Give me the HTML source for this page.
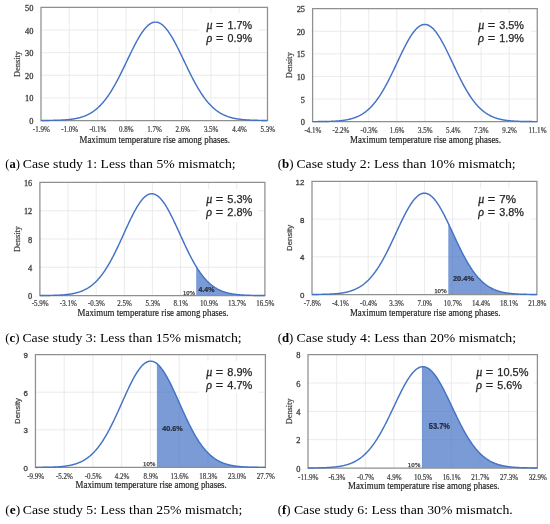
<!DOCTYPE html>
<html><head><meta charset="utf-8"><style>
html,body{margin:0;padding:0;background:#fff;}
svg{display:block;will-change:transform;filter:blur(0.3px);}
</style></head><body>
<svg width="550" height="524" viewBox="0 0 550 524">
<rect width="550" height="524" fill="#fff"/>
<g id="pa"><line x1="41.00" y1="97.89" x2="267.50" y2="97.89" stroke="#e6e6e6" stroke-width="0.8"/>
<line x1="41.00" y1="75.28" x2="267.50" y2="75.28" stroke="#e6e6e6" stroke-width="0.8"/>
<line x1="41.00" y1="52.66" x2="267.50" y2="52.66" stroke="#e6e6e6" stroke-width="0.8"/>
<line x1="41.00" y1="30.05" x2="267.50" y2="30.05" stroke="#e6e6e6" stroke-width="0.8"/>
<line x1="69.31" y1="7.44" x2="69.31" y2="120.50" stroke="#e6e6e6" stroke-width="0.8"/>
<line x1="97.62" y1="7.44" x2="97.62" y2="120.50" stroke="#e6e6e6" stroke-width="0.8"/>
<line x1="125.94" y1="7.44" x2="125.94" y2="120.50" stroke="#e6e6e6" stroke-width="0.8"/>
<line x1="154.25" y1="7.44" x2="154.25" y2="120.50" stroke="#e6e6e6" stroke-width="0.8"/>
<line x1="182.56" y1="7.44" x2="182.56" y2="120.50" stroke="#e6e6e6" stroke-width="0.8"/>
<line x1="210.88" y1="7.44" x2="210.88" y2="120.50" stroke="#e6e6e6" stroke-width="0.8"/>
<line x1="239.19" y1="7.44" x2="239.19" y2="120.50" stroke="#e6e6e6" stroke-width="0.8"/>
<rect x="199" y="13" width="60.00" height="34.00" fill="#fff"/>
<path d="M41.0,120.5 L41.0,7.44 L267.5,7.44 L267.5,120.5 Z" fill="none" stroke="#8f8f8f" stroke-width="1.25"/>
<path d="M41.00,120.47 L41.49,120.47 L41.98,120.46 L42.48,120.46 L42.97,120.46 L43.46,120.46 L43.95,120.45 L44.45,120.45 L44.94,120.45 L45.43,120.44 L45.92,120.44 L46.42,120.44 L46.91,120.43 L47.40,120.43 L47.89,120.42 L48.39,120.42 L48.88,120.41 L49.37,120.40 L49.86,120.40 L50.36,120.39 L50.85,120.38 L51.34,120.38 L51.83,120.37 L52.33,120.36 L52.82,120.35 L53.31,120.34 L53.80,120.33 L54.29,120.32 L54.79,120.31 L55.28,120.30 L55.77,120.28 L56.26,120.27 L56.76,120.26 L57.25,120.24 L57.74,120.23 L58.23,120.21 L58.73,120.19 L59.22,120.17 L59.71,120.15 L60.20,120.13 L60.70,120.11 L61.19,120.09 L61.68,120.06 L62.17,120.04 L62.67,120.01 L63.16,119.98 L63.65,119.95 L64.14,119.92 L64.63,119.89 L65.13,119.85 L65.62,119.82 L66.11,119.78 L66.60,119.74 L67.10,119.70 L67.59,119.65 L68.08,119.61 L68.57,119.56 L69.07,119.51 L69.56,119.46 L70.05,119.40 L70.54,119.34 L71.04,119.28 L71.53,119.22 L72.02,119.15 L72.51,119.08 L73.01,119.01 L73.50,118.93 L73.99,118.85 L74.48,118.77 L74.97,118.68 L75.47,118.59 L75.96,118.50 L76.45,118.40 L76.94,118.30 L77.44,118.19 L77.93,118.08 L78.42,117.96 L78.91,117.84 L79.41,117.71 L79.90,117.58 L80.39,117.45 L80.88,117.30 L81.38,117.16 L81.87,117.00 L82.36,116.84 L82.85,116.68 L83.35,116.51 L83.84,116.33 L84.33,116.15 L84.82,115.95 L85.32,115.76 L85.81,115.55 L86.30,115.34 L86.79,115.12 L87.28,114.89 L87.78,114.65 L88.27,114.41 L88.76,114.16 L89.25,113.90 L89.75,113.63 L90.24,113.35 L90.73,113.06 L91.22,112.76 L91.72,112.46 L92.21,112.14 L92.70,111.82 L93.19,111.48 L93.69,111.14 L94.18,110.78 L94.67,110.41 L95.16,110.04 L95.66,109.65 L96.15,109.25 L96.64,108.84 L97.13,108.42 L97.62,107.98 L98.12,107.54 L98.61,107.08 L99.10,106.61 L99.59,106.13 L100.09,105.64 L100.58,105.13 L101.07,104.61 L101.56,104.08 L102.06,103.54 L102.55,102.98 L103.04,102.42 L103.53,101.83 L104.03,101.24 L104.52,100.63 L105.01,100.01 L105.50,99.38 L106.00,98.73 L106.49,98.07 L106.98,97.40 L107.47,96.71 L107.97,96.01 L108.46,95.30 L108.95,94.58 L109.44,93.84 L109.93,93.09 L110.43,92.32 L110.92,91.55 L111.41,90.76 L111.90,89.96 L112.40,89.15 L112.89,88.32 L113.38,87.48 L113.87,86.63 L114.37,85.77 L114.86,84.90 L115.35,84.02 L115.84,83.13 L116.34,82.22 L116.83,81.31 L117.32,80.39 L117.81,79.45 L118.31,78.51 L118.80,77.56 L119.29,76.60 L119.78,75.63 L120.28,74.66 L120.77,73.67 L121.26,72.68 L121.75,71.69 L122.24,70.69 L122.74,69.68 L123.23,68.67 L123.72,67.65 L124.21,66.63 L124.71,65.61 L125.20,64.58 L125.69,63.56 L126.18,62.53 L126.68,61.50 L127.17,60.46 L127.66,59.43 L128.15,58.40 L128.65,57.38 L129.14,56.35 L129.63,55.32 L130.12,54.30 L130.62,53.29 L131.11,52.28 L131.60,51.27 L132.09,50.27 L132.58,49.28 L133.08,48.29 L133.57,47.32 L134.06,46.35 L134.55,45.39 L135.05,44.44 L135.54,43.50 L136.03,42.58 L136.52,41.66 L137.02,40.76 L137.51,39.88 L138.00,39.00 L138.49,38.15 L138.99,37.31 L139.48,36.48 L139.97,35.68 L140.46,34.89 L140.96,34.11 L141.45,33.36 L141.94,32.63 L142.43,31.92 L142.93,31.23 L143.42,30.56 L143.91,29.91 L144.40,29.28 L144.89,28.68 L145.39,28.10 L145.88,27.55 L146.37,27.02 L146.86,26.52 L147.36,26.04 L147.85,25.58 L148.34,25.16 L148.83,24.76 L149.33,24.38 L149.82,24.04 L150.31,23.72 L150.80,23.43 L151.30,23.16 L151.79,22.93 L152.28,22.73 L152.77,22.55 L153.27,22.40 L153.76,22.28 L154.25,22.19 L154.74,22.13 L155.23,22.10 L155.73,22.10 L156.22,22.13 L156.71,22.19 L157.20,22.28 L157.70,22.39 L158.19,22.54 L158.68,22.71 L159.17,22.91 L159.67,23.15 L160.16,23.41 L160.65,23.69 L161.14,24.01 L161.64,24.35 L162.13,24.73 L162.62,25.12 L163.11,25.55 L163.61,26.00 L164.10,26.48 L164.59,26.98 L165.08,27.51 L165.57,28.06 L166.07,28.64 L166.56,29.24 L167.05,29.86 L167.54,30.51 L168.04,31.17 L168.53,31.86 L169.02,32.57 L169.51,33.31 L170.01,34.06 L170.50,34.83 L170.99,35.61 L171.48,36.42 L171.98,37.24 L172.47,38.08 L172.96,38.94 L173.45,39.81 L173.95,40.69 L174.44,41.59 L174.93,42.51 L175.42,43.43 L175.92,44.37 L176.41,45.31 L176.90,46.27 L177.39,47.24 L177.88,48.22 L178.38,49.20 L178.87,50.19 L179.36,51.19 L179.85,52.20 L180.35,53.21 L180.84,54.23 L181.33,55.25 L181.82,56.27 L182.32,57.30 L182.81,58.32 L183.30,59.35 L183.79,60.38 L184.29,61.42 L184.78,62.45 L185.27,63.48 L185.76,64.50 L186.26,65.53 L186.75,66.55 L187.24,67.57 L187.73,68.59 L188.22,69.60 L188.72,70.61 L189.21,71.61 L189.70,72.61 L190.19,73.60 L190.69,74.58 L191.18,75.56 L191.67,76.52 L192.16,77.48 L192.66,78.44 L193.15,79.38 L193.64,80.31 L194.13,81.24 L194.63,82.15 L195.12,83.06 L195.61,83.95 L196.10,84.83 L196.60,85.71 L197.09,86.57 L197.58,87.42 L198.07,88.26 L198.57,89.08 L199.06,89.90 L199.55,90.70 L200.04,91.49 L200.53,92.26 L201.03,93.03 L201.52,93.78 L202.01,94.52 L202.50,95.25 L203.00,95.96 L203.49,96.66 L203.98,97.35 L204.47,98.02 L204.97,98.68 L205.46,99.33 L205.95,99.96 L206.44,100.58 L206.94,101.19 L207.43,101.79 L207.92,102.37 L208.41,102.94 L208.91,103.50 L209.40,104.04 L209.89,104.57 L210.38,105.09 L210.88,105.60 L211.37,106.09 L211.86,106.57 L212.35,107.04 L212.84,107.50 L213.34,107.95 L213.83,108.38 L214.32,108.81 L214.81,109.22 L215.31,109.62 L215.80,110.01 L216.29,110.38 L216.78,110.75 L217.28,111.11 L217.77,111.45 L218.26,111.79 L218.75,112.12 L219.25,112.43 L219.74,112.74 L220.23,113.04 L220.72,113.33 L221.22,113.61 L221.71,113.88 L222.20,114.14 L222.69,114.39 L223.18,114.64 L223.68,114.87 L224.17,115.10 L224.66,115.32 L225.15,115.53 L225.65,115.74 L226.14,115.94 L226.63,116.13 L227.12,116.32 L227.62,116.49 L228.11,116.67 L228.60,116.83 L229.09,116.99 L229.59,117.15 L230.08,117.29 L230.57,117.44 L231.06,117.57 L231.56,117.70 L232.05,117.83 L232.54,117.95 L233.03,118.07 L233.53,118.18 L234.02,118.29 L234.51,118.39 L235.00,118.49 L235.49,118.58 L235.99,118.68 L236.48,118.76 L236.97,118.85 L237.46,118.93 L237.96,119.00 L238.45,119.08 L238.94,119.15 L239.43,119.21 L239.93,119.28 L240.42,119.34 L240.91,119.40 L241.40,119.45 L241.90,119.51 L242.39,119.56 L242.88,119.61 L243.37,119.65 L243.87,119.70 L244.36,119.74 L244.85,119.78 L245.34,119.82 L245.83,119.85 L246.33,119.89 L246.82,119.92 L247.31,119.95 L247.80,119.98 L248.30,120.01 L248.79,120.04 L249.28,120.06 L249.77,120.09 L250.27,120.11 L250.76,120.13 L251.25,120.15 L251.74,120.17 L252.24,120.19 L252.73,120.21 L253.22,120.22 L253.71,120.24 L254.21,120.26 L254.70,120.27 L255.19,120.28 L255.68,120.30 L256.18,120.31 L256.67,120.32 L257.16,120.33 L257.65,120.34 L258.14,120.35 L258.64,120.36 L259.13,120.37 L259.62,120.38 L260.11,120.38 L260.61,120.39 L261.10,120.40 L261.59,120.40 L262.08,120.41 L262.58,120.42 L263.07,120.42 L263.56,120.43 L264.05,120.43 L264.55,120.43 L265.04,120.44 L265.53,120.44 L266.02,120.45 L266.52,120.45 L267.01,120.45 L267.50,120.46" fill="none" stroke="#4472c4" stroke-width="1.45" stroke-linejoin="round"/>
<text x="33.40" y="124.10" text-anchor="end" font-family='"Liberation Serif", serif' font-size="8.4" fill="#404040" stroke="#404040" stroke-width="0.3">0</text>
<text x="33.40" y="101.49" text-anchor="end" font-family='"Liberation Serif", serif' font-size="8.4" fill="#404040" stroke="#404040" stroke-width="0.3">10</text>
<text x="33.40" y="78.88" text-anchor="end" font-family='"Liberation Serif", serif' font-size="8.4" fill="#404040" stroke="#404040" stroke-width="0.3">20</text>
<text x="33.40" y="56.26" text-anchor="end" font-family='"Liberation Serif", serif' font-size="8.4" fill="#404040" stroke="#404040" stroke-width="0.3">30</text>
<text x="33.40" y="33.65" text-anchor="end" font-family='"Liberation Serif", serif' font-size="8.4" fill="#404040" stroke="#404040" stroke-width="0.3">40</text>
<text x="33.40" y="11.04" text-anchor="end" font-family='"Liberation Serif", serif' font-size="8.4" fill="#404040" stroke="#404040" stroke-width="0.3">50</text>
<text x="41.30" y="131.90" text-anchor="middle" font-family='"Liberation Serif", serif' font-size="7.4" textLength="16.91" lengthAdjust="spacingAndGlyphs" fill="#404040" stroke="#404040" stroke-width="0.2">-1.9%</text>
<text x="69.61" y="131.90" text-anchor="middle" font-family='"Liberation Serif", serif' font-size="7.4" textLength="16.91" lengthAdjust="spacingAndGlyphs" fill="#404040" stroke="#404040" stroke-width="0.2">-1.0%</text>
<text x="97.92" y="131.90" text-anchor="middle" font-family='"Liberation Serif", serif' font-size="7.4" textLength="16.91" lengthAdjust="spacingAndGlyphs" fill="#404040" stroke="#404040" stroke-width="0.2">-0.1%</text>
<text x="126.24" y="131.90" text-anchor="middle" font-family='"Liberation Serif", serif' font-size="7.4" textLength="14.58" lengthAdjust="spacingAndGlyphs" fill="#404040" stroke="#404040" stroke-width="0.2">0.8%</text>
<text x="154.55" y="131.90" text-anchor="middle" font-family='"Liberation Serif", serif' font-size="7.4" textLength="14.58" lengthAdjust="spacingAndGlyphs" fill="#404040" stroke="#404040" stroke-width="0.2">1.7%</text>
<text x="182.86" y="131.90" text-anchor="middle" font-family='"Liberation Serif", serif' font-size="7.4" textLength="14.58" lengthAdjust="spacingAndGlyphs" fill="#404040" stroke="#404040" stroke-width="0.2">2.6%</text>
<text x="211.18" y="131.90" text-anchor="middle" font-family='"Liberation Serif", serif' font-size="7.4" textLength="14.58" lengthAdjust="spacingAndGlyphs" fill="#404040" stroke="#404040" stroke-width="0.2">3.5%</text>
<text x="239.49" y="131.90" text-anchor="middle" font-family='"Liberation Serif", serif' font-size="7.4" textLength="14.58" lengthAdjust="spacingAndGlyphs" fill="#404040" stroke="#404040" stroke-width="0.2">4.4%</text>
<text x="267.80" y="131.90" text-anchor="middle" font-family='"Liberation Serif", serif' font-size="7.4" textLength="14.58" lengthAdjust="spacingAndGlyphs" fill="#404040" stroke="#404040" stroke-width="0.2">5.3%</text>
<text transform="translate(20.40,63.97) rotate(-90)" text-anchor="middle" font-family='"Liberation Serif", serif' font-size="7.4" fill="#404040" stroke="#404040" stroke-width="0.2" textLength="26" lengthAdjust="spacingAndGlyphs">Density</text>
<text x="79.6" y="142.6" font-family='"Liberation Serif", serif' font-size="9.4" fill="#262626" stroke="#262626" stroke-width="0.18" textLength="150.4" lengthAdjust="spacingAndGlyphs">Maximum temperature rise among phases.</text>
<text x="206.50" y="28.90" font-family='"Liberation Serif", serif' font-style="italic" font-size="12" fill="#262626" stroke="#262626" stroke-width="0.3">μ</text>
<text x="215.90" y="28.90" font-family='"Liberation Sans", sans-serif' font-size="11" fill="#262626" stroke="#262626" stroke-width="0.3" textLength="7.4" lengthAdjust="spacingAndGlyphs">=</text>
<text x="227.50" y="28.90" font-family='"Liberation Sans", sans-serif' font-size="10.6" fill="#262626" stroke="#262626" stroke-width="0.25" textLength="24.50" lengthAdjust="spacingAndGlyphs">1.7%</text>
<text x="206.50" y="42.10" font-family='"Liberation Serif", serif' font-style="italic" font-size="12" fill="#262626" stroke="#262626" stroke-width="0.3">ρ</text>
<text x="215.90" y="42.10" font-family='"Liberation Sans", sans-serif' font-size="11" fill="#262626" stroke="#262626" stroke-width="0.3" textLength="7.4" lengthAdjust="spacingAndGlyphs">=</text>
<text x="227.50" y="42.10" font-family='"Liberation Sans", sans-serif' font-size="10.6" fill="#262626" stroke="#262626" stroke-width="0.25" textLength="24.50" lengthAdjust="spacingAndGlyphs">0.9%</text>
<text x="5.30" y="168" font-family='"Liberation Serif", serif' font-size="13.0" fill="#000" textLength="14.60" lengthAdjust="spacingAndGlyphs">(<tspan font-weight="bold">a</tspan>)</text>
<text x="22.80" y="168" font-family='"Liberation Serif", serif' font-size="13.0" fill="#000" textLength="212.90" lengthAdjust="spacingAndGlyphs">Case study 1: Less than 5% mismatch;</text></g>
<g id="pb"><line x1="312.60" y1="99.05" x2="537.25" y2="99.05" stroke="#e6e6e6" stroke-width="0.8"/>
<line x1="312.60" y1="76.45" x2="537.25" y2="76.45" stroke="#e6e6e6" stroke-width="0.8"/>
<line x1="312.60" y1="53.85" x2="537.25" y2="53.85" stroke="#e6e6e6" stroke-width="0.8"/>
<line x1="312.60" y1="31.25" x2="537.25" y2="31.25" stroke="#e6e6e6" stroke-width="0.8"/>
<line x1="340.68" y1="8.65" x2="340.68" y2="121.65" stroke="#e6e6e6" stroke-width="0.8"/>
<line x1="368.76" y1="8.65" x2="368.76" y2="121.65" stroke="#e6e6e6" stroke-width="0.8"/>
<line x1="396.84" y1="8.65" x2="396.84" y2="121.65" stroke="#e6e6e6" stroke-width="0.8"/>
<line x1="424.93" y1="8.65" x2="424.93" y2="121.65" stroke="#e6e6e6" stroke-width="0.8"/>
<line x1="453.01" y1="8.65" x2="453.01" y2="121.65" stroke="#e6e6e6" stroke-width="0.8"/>
<line x1="481.09" y1="8.65" x2="481.09" y2="121.65" stroke="#e6e6e6" stroke-width="0.8"/>
<line x1="509.17" y1="8.65" x2="509.17" y2="121.65" stroke="#e6e6e6" stroke-width="0.8"/>
<rect x="471.6" y="13" width="59.70" height="33.00" fill="#fff"/>
<path d="M312.6,121.65 L312.6,8.65 L537.25,8.65 L537.25,121.65 Z" fill="none" stroke="#8f8f8f" stroke-width="1.25"/>
<path d="M312.60,121.62 L313.09,121.62 L313.58,121.62 L314.07,121.62 L314.55,121.61 L315.04,121.61 L315.53,121.61 L316.02,121.61 L316.51,121.60 L317.00,121.60 L317.48,121.60 L317.97,121.59 L318.46,121.59 L318.95,121.58 L319.44,121.58 L319.93,121.58 L320.41,121.57 L320.90,121.56 L321.39,121.56 L321.88,121.55 L322.37,121.55 L322.86,121.54 L323.34,121.53 L323.83,121.52 L324.32,121.51 L324.81,121.51 L325.30,121.50 L325.79,121.49 L326.27,121.48 L326.76,121.46 L327.25,121.45 L327.74,121.44 L328.23,121.43 L328.72,121.41 L329.20,121.40 L329.69,121.38 L330.18,121.37 L330.67,121.35 L331.16,121.33 L331.65,121.31 L332.13,121.29 L332.62,121.27 L333.11,121.24 L333.60,121.22 L334.09,121.19 L334.58,121.17 L335.06,121.14 L335.55,121.11 L336.04,121.08 L336.53,121.04 L337.02,121.01 L337.51,120.97 L338.00,120.93 L338.48,120.89 L338.97,120.85 L339.46,120.81 L339.95,120.76 L340.44,120.71 L340.93,120.66 L341.41,120.60 L341.90,120.55 L342.39,120.49 L342.88,120.42 L343.37,120.36 L343.86,120.29 L344.34,120.22 L344.83,120.14 L345.32,120.07 L345.81,119.98 L346.30,119.90 L346.79,119.81 L347.27,119.71 L347.76,119.62 L348.25,119.52 L348.74,119.41 L349.23,119.30 L349.72,119.18 L350.20,119.06 L350.69,118.94 L351.18,118.81 L351.67,118.67 L352.16,118.53 L352.65,118.38 L353.13,118.23 L353.62,118.07 L354.11,117.90 L354.60,117.73 L355.09,117.55 L355.58,117.37 L356.06,117.18 L356.55,116.98 L357.04,116.77 L357.53,116.56 L358.02,116.33 L358.51,116.10 L359.00,115.87 L359.48,115.62 L359.97,115.37 L360.46,115.10 L360.95,114.83 L361.44,114.55 L361.93,114.26 L362.41,113.96 L362.90,113.64 L363.39,113.32 L363.88,112.99 L364.37,112.65 L364.86,112.30 L365.34,111.94 L365.83,111.57 L366.32,111.18 L366.81,110.79 L367.30,110.38 L367.79,109.96 L368.27,109.53 L368.76,109.09 L369.25,108.64 L369.74,108.17 L370.23,107.69 L370.72,107.20 L371.20,106.70 L371.69,106.18 L372.18,105.65 L372.67,105.11 L373.16,104.55 L373.65,103.98 L374.13,103.40 L374.62,102.81 L375.11,102.20 L375.60,101.58 L376.09,100.94 L376.58,100.29 L377.06,99.63 L377.55,98.96 L378.04,98.27 L378.53,97.56 L379.02,96.85 L379.51,96.12 L380.00,95.38 L380.48,94.62 L380.97,93.85 L381.46,93.07 L381.95,92.27 L382.44,91.47 L382.93,90.65 L383.41,89.81 L383.90,88.97 L384.39,88.11 L384.88,87.24 L385.37,86.36 L385.86,85.47 L386.34,84.57 L386.83,83.66 L387.32,82.73 L387.81,81.80 L388.30,80.86 L388.79,79.91 L389.27,78.94 L389.76,77.97 L390.25,77.00 L390.74,76.01 L391.23,75.02 L391.72,74.02 L392.20,73.01 L392.69,72.00 L393.18,70.98 L393.67,69.96 L394.16,68.93 L394.65,67.90 L395.13,66.87 L395.62,65.84 L396.11,64.80 L396.60,63.76 L397.09,62.72 L397.58,61.68 L398.06,60.64 L398.55,59.61 L399.04,58.57 L399.53,57.54 L400.02,56.51 L400.51,55.48 L400.99,54.46 L401.48,53.45 L401.97,52.44 L402.46,51.44 L402.95,50.44 L403.44,49.46 L403.93,48.48 L404.41,47.51 L404.90,46.55 L405.39,45.61 L405.88,44.68 L406.37,43.76 L406.86,42.85 L407.34,41.96 L407.83,41.08 L408.32,40.22 L408.81,39.37 L409.30,38.54 L409.79,37.73 L410.27,36.94 L410.76,36.16 L411.25,35.41 L411.74,34.68 L412.23,33.96 L412.72,33.27 L413.20,32.60 L413.69,31.96 L414.18,31.34 L414.67,30.74 L415.16,30.16 L415.65,29.62 L416.13,29.09 L416.62,28.59 L417.11,28.12 L417.60,27.68 L418.09,27.26 L418.58,26.87 L419.06,26.51 L419.55,26.18 L420.04,25.87 L420.53,25.60 L421.02,25.35 L421.51,25.13 L421.99,24.95 L422.48,24.79 L422.97,24.66 L423.46,24.56 L423.95,24.50 L424.44,24.46 L424.93,24.45 L425.41,24.47 L425.90,24.53 L426.39,24.61 L426.88,24.72 L427.37,24.87 L427.86,25.04 L428.34,25.24 L428.83,25.47 L429.32,25.74 L429.81,26.03 L430.30,26.35 L430.79,26.69 L431.27,27.07 L431.76,27.47 L432.25,27.90 L432.74,28.36 L433.23,28.85 L433.72,29.36 L434.20,29.89 L434.69,30.45 L435.18,31.04 L435.67,31.65 L436.16,32.29 L436.65,32.94 L437.13,33.62 L437.62,34.33 L438.11,35.05 L438.60,35.79 L439.09,36.56 L439.58,37.34 L440.06,38.14 L440.55,38.96 L441.04,39.80 L441.53,40.65 L442.02,41.53 L442.51,42.41 L442.99,43.31 L443.48,44.22 L443.97,45.15 L444.46,46.09 L444.95,47.04 L445.44,48.00 L445.92,48.98 L446.41,49.96 L446.90,50.95 L447.39,51.95 L447.88,52.95 L448.37,53.97 L448.86,54.98 L449.34,56.01 L449.83,57.03 L450.32,58.07 L450.81,59.10 L451.30,60.14 L451.79,61.17 L452.27,62.21 L452.76,63.25 L453.25,64.29 L453.74,65.33 L454.23,66.37 L454.72,67.40 L455.20,68.43 L455.69,69.46 L456.18,70.48 L456.67,71.50 L457.16,72.52 L457.65,73.53 L458.13,74.53 L458.62,75.53 L459.11,76.52 L459.60,77.50 L460.09,78.47 L460.58,79.44 L461.06,80.39 L461.55,81.34 L462.04,82.28 L462.53,83.21 L463.02,84.13 L463.51,85.03 L463.99,85.93 L464.48,86.82 L464.97,87.69 L465.46,88.55 L465.95,89.40 L466.44,90.24 L466.92,91.07 L467.41,91.88 L467.90,92.68 L468.39,93.47 L468.88,94.25 L469.37,95.01 L469.86,95.76 L470.34,96.49 L470.83,97.22 L471.32,97.92 L471.81,98.62 L472.30,99.30 L472.79,99.97 L473.27,100.63 L473.76,101.27 L474.25,101.90 L474.74,102.51 L475.23,103.11 L475.72,103.70 L476.20,104.28 L476.69,104.84 L477.18,105.39 L477.67,105.92 L478.16,106.45 L478.65,106.96 L479.13,107.45 L479.62,107.94 L480.11,108.41 L480.60,108.87 L481.09,109.32 L481.58,109.75 L482.06,110.18 L482.55,110.59 L483.04,110.99 L483.53,111.38 L484.02,111.76 L484.51,112.13 L484.99,112.48 L485.48,112.83 L485.97,113.16 L486.46,113.49 L486.95,113.80 L487.44,114.11 L487.92,114.41 L488.41,114.69 L488.90,114.97 L489.39,115.24 L489.88,115.50 L490.37,115.75 L490.85,115.99 L491.34,116.22 L491.83,116.45 L492.32,116.67 L492.81,116.88 L493.30,117.08 L493.79,117.28 L494.27,117.46 L494.76,117.65 L495.25,117.82 L495.74,117.99 L496.23,118.15 L496.72,118.31 L497.20,118.46 L497.69,118.60 L498.18,118.74 L498.67,118.87 L499.16,119.00 L499.65,119.12 L500.13,119.24 L500.62,119.36 L501.11,119.46 L501.60,119.57 L502.09,119.67 L502.58,119.76 L503.06,119.85 L503.55,119.94 L504.04,120.03 L504.53,120.11 L505.02,120.18 L505.51,120.26 L505.99,120.33 L506.48,120.39 L506.97,120.46 L507.46,120.52 L507.95,120.58 L508.44,120.63 L508.92,120.68 L509.41,120.73 L509.90,120.78 L510.39,120.83 L510.88,120.87 L511.37,120.91 L511.85,120.95 L512.34,120.99 L512.83,121.03 L513.32,121.06 L513.81,121.09 L514.30,121.12 L514.78,121.15 L515.27,121.18 L515.76,121.21 L516.25,121.23 L516.74,121.26 L517.23,121.28 L517.72,121.30 L518.20,121.32 L518.69,121.34 L519.18,121.36 L519.67,121.37 L520.16,121.39 L520.65,121.41 L521.13,121.42 L521.62,121.43 L522.11,121.45 L522.60,121.46 L523.09,121.47 L523.58,121.48 L524.06,121.49 L524.55,121.50 L525.04,121.51 L525.53,121.52 L526.02,121.53 L526.51,121.54 L526.99,121.54 L527.48,121.55 L527.97,121.56 L528.46,121.56 L528.95,121.57 L529.44,121.57 L529.92,121.58 L530.41,121.58 L530.90,121.59 L531.39,121.59 L531.88,121.59 L532.37,121.60 L532.85,121.60 L533.34,121.60 L533.83,121.61 L534.32,121.61 L534.81,121.61 L535.30,121.62 L535.78,121.62 L536.27,121.62 L536.76,121.62 L537.25,121.62" fill="none" stroke="#4472c4" stroke-width="1.45" stroke-linejoin="round"/>
<text x="305.00" y="125.25" text-anchor="end" font-family='"Liberation Serif", serif' font-size="8.4" fill="#404040" stroke="#404040" stroke-width="0.3">0</text>
<text x="305.00" y="102.65" text-anchor="end" font-family='"Liberation Serif", serif' font-size="8.4" fill="#404040" stroke="#404040" stroke-width="0.3">5</text>
<text x="305.00" y="80.05" text-anchor="end" font-family='"Liberation Serif", serif' font-size="8.4" fill="#404040" stroke="#404040" stroke-width="0.3">10</text>
<text x="305.00" y="57.45" text-anchor="end" font-family='"Liberation Serif", serif' font-size="8.4" fill="#404040" stroke="#404040" stroke-width="0.3">15</text>
<text x="305.00" y="34.85" text-anchor="end" font-family='"Liberation Serif", serif' font-size="8.4" fill="#404040" stroke="#404040" stroke-width="0.3">20</text>
<text x="305.00" y="12.25" text-anchor="end" font-family='"Liberation Serif", serif' font-size="8.4" fill="#404040" stroke="#404040" stroke-width="0.3">25</text>
<text x="312.90" y="132.60" text-anchor="middle" font-family='"Liberation Serif", serif' font-size="7.4" textLength="16.91" lengthAdjust="spacingAndGlyphs" fill="#404040" stroke="#404040" stroke-width="0.2">-4.1%</text>
<text x="340.98" y="132.60" text-anchor="middle" font-family='"Liberation Serif", serif' font-size="7.4" textLength="16.91" lengthAdjust="spacingAndGlyphs" fill="#404040" stroke="#404040" stroke-width="0.2">-2.2%</text>
<text x="369.06" y="132.60" text-anchor="middle" font-family='"Liberation Serif", serif' font-size="7.4" textLength="16.91" lengthAdjust="spacingAndGlyphs" fill="#404040" stroke="#404040" stroke-width="0.2">-0.3%</text>
<text x="397.14" y="132.60" text-anchor="middle" font-family='"Liberation Serif", serif' font-size="7.4" textLength="14.58" lengthAdjust="spacingAndGlyphs" fill="#404040" stroke="#404040" stroke-width="0.2">1.6%</text>
<text x="425.23" y="132.60" text-anchor="middle" font-family='"Liberation Serif", serif' font-size="7.4" textLength="14.58" lengthAdjust="spacingAndGlyphs" fill="#404040" stroke="#404040" stroke-width="0.2">3.5%</text>
<text x="453.31" y="132.60" text-anchor="middle" font-family='"Liberation Serif", serif' font-size="7.4" textLength="14.58" lengthAdjust="spacingAndGlyphs" fill="#404040" stroke="#404040" stroke-width="0.2">5.4%</text>
<text x="481.39" y="132.60" text-anchor="middle" font-family='"Liberation Serif", serif' font-size="7.4" textLength="14.58" lengthAdjust="spacingAndGlyphs" fill="#404040" stroke="#404040" stroke-width="0.2">7.3%</text>
<text x="509.47" y="132.60" text-anchor="middle" font-family='"Liberation Serif", serif' font-size="7.4" textLength="14.58" lengthAdjust="spacingAndGlyphs" fill="#404040" stroke="#404040" stroke-width="0.2">9.2%</text>
<text x="537.55" y="132.60" text-anchor="middle" font-family='"Liberation Serif", serif' font-size="7.4" textLength="18.08" lengthAdjust="spacingAndGlyphs" fill="#404040" stroke="#404040" stroke-width="0.2">11.1%</text>
<text transform="translate(292.00,65.15) rotate(-90)" text-anchor="middle" font-family='"Liberation Serif", serif' font-size="7.4" fill="#404040" stroke="#404040" stroke-width="0.2" textLength="26" lengthAdjust="spacingAndGlyphs">Density</text>
<text x="350" y="143" font-family='"Liberation Serif", serif' font-size="9.4" fill="#262626" stroke="#262626" stroke-width="0.18" textLength="151.0" lengthAdjust="spacingAndGlyphs">Maximum temperature rise among phases.</text>
<text x="478.30" y="29.20" font-family='"Liberation Serif", serif' font-style="italic" font-size="12" fill="#262626" stroke="#262626" stroke-width="0.3">μ</text>
<text x="487.70" y="29.20" font-family='"Liberation Sans", sans-serif' font-size="11" fill="#262626" stroke="#262626" stroke-width="0.3" textLength="7.4" lengthAdjust="spacingAndGlyphs">=</text>
<text x="499.30" y="29.20" font-family='"Liberation Sans", sans-serif' font-size="10.6" fill="#262626" stroke="#262626" stroke-width="0.25" textLength="24.70" lengthAdjust="spacingAndGlyphs">3.5%</text>
<text x="478.30" y="42.40" font-family='"Liberation Serif", serif' font-style="italic" font-size="12" fill="#262626" stroke="#262626" stroke-width="0.3">ρ</text>
<text x="487.70" y="42.40" font-family='"Liberation Sans", sans-serif' font-size="11" fill="#262626" stroke="#262626" stroke-width="0.3" textLength="7.4" lengthAdjust="spacingAndGlyphs">=</text>
<text x="499.30" y="42.40" font-family='"Liberation Sans", sans-serif' font-size="10.6" fill="#262626" stroke="#262626" stroke-width="0.25" textLength="24.70" lengthAdjust="spacingAndGlyphs">1.9%</text>
<text x="277.70" y="168" font-family='"Liberation Serif", serif' font-size="13.0" fill="#000" textLength="15.80" lengthAdjust="spacingAndGlyphs">(<tspan font-weight="bold">b</tspan>)</text>
<text x="296.40" y="168" font-family='"Liberation Serif", serif' font-size="13.0" fill="#000" textLength="219.30" lengthAdjust="spacingAndGlyphs">Case study 2: Less than 10% mismatch;</text></g>
<g id="pc"><line x1="39.90" y1="267.27" x2="264.90" y2="267.27" stroke="#e6e6e6" stroke-width="0.8"/>
<line x1="39.90" y1="239.00" x2="264.90" y2="239.00" stroke="#e6e6e6" stroke-width="0.8"/>
<line x1="39.90" y1="210.72" x2="264.90" y2="210.72" stroke="#e6e6e6" stroke-width="0.8"/>
<line x1="68.02" y1="182.44" x2="68.02" y2="295.55" stroke="#e6e6e6" stroke-width="0.8"/>
<line x1="96.15" y1="182.44" x2="96.15" y2="295.55" stroke="#e6e6e6" stroke-width="0.8"/>
<line x1="124.27" y1="182.44" x2="124.27" y2="295.55" stroke="#e6e6e6" stroke-width="0.8"/>
<line x1="152.40" y1="182.44" x2="152.40" y2="295.55" stroke="#e6e6e6" stroke-width="0.8"/>
<line x1="180.52" y1="182.44" x2="180.52" y2="295.55" stroke="#e6e6e6" stroke-width="0.8"/>
<line x1="208.65" y1="182.44" x2="208.65" y2="295.55" stroke="#e6e6e6" stroke-width="0.8"/>
<line x1="236.77" y1="182.44" x2="236.77" y2="295.55" stroke="#e6e6e6" stroke-width="0.8"/>
<rect x="198.7" y="189" width="59.70" height="33.00" fill="#fff"/>
<path d="M196.20,295.55 L196.20,266.59 L196.42,266.96 L196.91,267.75 L197.40,268.52 L197.89,269.28 L198.38,270.03 L198.87,270.77 L199.36,271.49 L199.85,272.19 L200.33,272.89 L200.82,273.57 L201.31,274.23 L201.80,274.88 L202.29,275.52 L202.78,276.15 L203.27,276.76 L203.76,277.35 L204.25,277.94 L204.74,278.51 L205.23,279.06 L205.72,279.60 L206.20,280.13 L206.69,280.65 L207.18,281.16 L207.67,281.65 L208.16,282.12 L208.65,282.59 L209.14,283.04 L209.63,283.49 L210.12,283.91 L210.61,284.33 L211.10,284.74 L211.58,285.13 L212.07,285.51 L212.56,285.89 L213.05,286.25 L213.54,286.60 L214.03,286.94 L214.52,287.27 L215.01,287.59 L215.50,287.89 L215.99,288.19 L216.48,288.48 L216.97,288.76 L217.45,289.04 L217.94,289.30 L218.43,289.55 L218.92,289.80 L219.41,290.03 L219.90,290.26 L220.39,290.48 L220.88,290.70 L221.37,290.90 L221.86,291.10 L222.35,291.29 L222.83,291.47 L223.32,291.65 L223.81,291.82 L224.30,291.99 L224.79,292.15 L225.28,292.30 L225.77,292.44 L226.26,292.58 L226.75,292.72 L227.24,292.85 L227.73,292.97 L228.22,293.09 L228.70,293.21 L229.19,293.32 L229.68,293.42 L230.17,293.52 L230.66,293.62 L231.15,293.71 L231.64,293.80 L232.13,293.89 L232.62,293.97 L233.11,294.05 L233.60,294.12 L234.08,294.19 L234.57,294.26 L235.06,294.33 L235.55,294.39 L236.04,294.45 L236.53,294.50 L237.02,294.56 L237.51,294.61 L238.00,294.66 L238.49,294.71 L238.98,294.75 L239.47,294.79 L239.95,294.83 L240.44,294.87 L240.93,294.91 L241.42,294.94 L241.91,294.98 L242.40,295.01 L242.89,295.04 L243.38,295.07 L243.87,295.09 L244.36,295.12 L244.85,295.14 L245.33,295.17 L245.82,295.19 L246.31,295.21 L246.80,295.23 L247.29,295.25 L247.78,295.26 L248.27,295.28 L248.76,295.30 L249.25,295.31 L249.74,295.33 L250.23,295.34 L250.72,295.35 L251.20,295.36 L251.69,295.37 L252.18,295.39 L252.67,295.40 L253.16,295.40 L253.65,295.41 L254.14,295.42 L254.63,295.43 L255.12,295.44 L255.61,295.44 L256.10,295.45 L256.58,295.46 L257.07,295.46 L257.56,295.47 L258.05,295.47 L258.54,295.48 L259.03,295.48 L259.52,295.49 L260.01,295.49 L260.50,295.50 L260.99,295.50 L261.48,295.50 L261.97,295.51 L262.45,295.51 L262.94,295.51 L263.43,295.51 L263.92,295.52 L264.41,295.52 L264.90,295.52 L264.90,295.55 Z" fill="#4472c4" fill-opacity="0.71"/>
<path d="M39.9,295.55 L39.9,182.44 L264.9,182.44 L264.9,295.55 Z" fill="none" stroke="#8f8f8f" stroke-width="1.25"/>
<path d="M39.90,295.52 L40.39,295.51 L40.88,295.51 L41.37,295.51 L41.86,295.50 L42.35,295.50 L42.83,295.50 L43.32,295.49 L43.81,295.49 L44.30,295.49 L44.79,295.48 L45.28,295.48 L45.77,295.47 L46.26,295.47 L46.75,295.46 L47.24,295.45 L47.73,295.45 L48.22,295.44 L48.70,295.43 L49.19,295.43 L49.68,295.42 L50.17,295.41 L50.66,295.40 L51.15,295.39 L51.64,295.38 L52.13,295.37 L52.62,295.36 L53.11,295.35 L53.60,295.33 L54.08,295.32 L54.57,295.30 L55.06,295.29 L55.55,295.27 L56.04,295.26 L56.53,295.24 L57.02,295.22 L57.51,295.20 L58.00,295.18 L58.49,295.16 L58.98,295.13 L59.47,295.11 L59.95,295.08 L60.44,295.05 L60.93,295.02 L61.42,294.99 L61.91,294.96 L62.40,294.93 L62.89,294.89 L63.38,294.85 L63.87,294.82 L64.36,294.77 L64.85,294.73 L65.33,294.68 L65.82,294.64 L66.31,294.59 L66.80,294.53 L67.29,294.48 L67.78,294.42 L68.27,294.36 L68.76,294.30 L69.25,294.23 L69.74,294.16 L70.23,294.09 L70.72,294.01 L71.20,293.93 L71.69,293.85 L72.18,293.76 L72.67,293.67 L73.16,293.58 L73.65,293.48 L74.14,293.38 L74.63,293.27 L75.12,293.16 L75.61,293.04 L76.10,292.92 L76.58,292.79 L77.07,292.66 L77.56,292.52 L78.05,292.38 L78.54,292.23 L79.03,292.07 L79.52,291.91 L80.01,291.75 L80.50,291.57 L80.99,291.39 L81.48,291.21 L81.97,291.01 L82.45,290.81 L82.94,290.60 L83.43,290.38 L83.92,290.16 L84.41,289.93 L84.90,289.69 L85.39,289.44 L85.88,289.18 L86.37,288.91 L86.86,288.64 L87.35,288.35 L87.83,288.06 L88.32,287.76 L88.81,287.44 L89.30,287.12 L89.79,286.78 L90.28,286.44 L90.77,286.09 L91.26,285.72 L91.75,285.34 L92.24,284.95 L92.73,284.56 L93.22,284.14 L93.70,283.72 L94.19,283.29 L94.68,282.84 L95.17,282.38 L95.66,281.91 L96.15,281.43 L96.64,280.93 L97.13,280.42 L97.62,279.90 L98.11,279.36 L98.60,278.81 L99.08,278.25 L99.57,277.67 L100.06,277.08 L100.55,276.48 L101.04,275.86 L101.53,275.23 L102.02,274.59 L102.51,273.93 L103.00,273.26 L103.49,272.58 L103.98,271.88 L104.47,271.16 L104.95,270.44 L105.44,269.69 L105.93,268.94 L106.42,268.17 L106.91,267.39 L107.40,266.59 L107.89,265.79 L108.38,264.96 L108.87,264.13 L109.36,263.28 L109.85,262.42 L110.33,261.55 L110.82,260.66 L111.31,259.76 L111.80,258.85 L112.29,257.93 L112.78,257.00 L113.27,256.05 L113.76,255.10 L114.25,254.13 L114.74,253.16 L115.23,252.17 L115.72,251.18 L116.20,250.18 L116.69,249.16 L117.18,248.14 L117.67,247.12 L118.16,246.08 L118.65,245.04 L119.14,243.99 L119.63,242.94 L120.12,241.88 L120.61,240.82 L121.10,239.75 L121.58,238.68 L122.07,237.61 L122.56,236.53 L123.05,235.45 L123.54,234.38 L124.03,233.30 L124.52,232.22 L125.01,231.14 L125.50,230.07 L125.99,228.99 L126.48,227.92 L126.97,226.86 L127.45,225.79 L127.94,224.74 L128.43,223.69 L128.92,222.64 L129.41,221.61 L129.90,220.58 L130.39,219.56 L130.88,218.55 L131.37,217.55 L131.86,216.56 L132.35,215.58 L132.83,214.62 L133.32,213.67 L133.81,212.73 L134.30,211.81 L134.79,210.90 L135.28,210.01 L135.77,209.14 L136.26,208.28 L136.75,207.45 L137.24,206.63 L137.73,205.83 L138.22,205.05 L138.70,204.30 L139.19,203.56 L139.68,202.85 L140.17,202.16 L140.66,201.50 L141.15,200.85 L141.64,200.24 L142.13,199.65 L142.62,199.08 L143.11,198.54 L143.60,198.03 L144.08,197.54 L144.57,197.08 L145.06,196.65 L145.55,196.25 L146.04,195.88 L146.53,195.54 L147.02,195.22 L147.51,194.94 L148.00,194.68 L148.49,194.46 L148.98,194.27 L149.47,194.10 L149.95,193.97 L150.44,193.87 L150.93,193.80 L151.42,193.76 L151.91,193.75 L152.40,193.77 L152.89,193.83 L153.38,193.91 L153.87,194.03 L154.36,194.17 L154.85,194.35 L155.33,194.56 L155.82,194.80 L156.31,195.06 L156.80,195.36 L157.29,195.69 L157.78,196.05 L158.27,196.43 L158.76,196.85 L159.25,197.29 L159.74,197.76 L160.23,198.26 L160.72,198.78 L161.20,199.33 L161.69,199.91 L162.18,200.51 L162.67,201.14 L163.16,201.79 L163.65,202.47 L164.14,203.17 L164.63,203.89 L165.12,204.64 L165.61,205.40 L166.10,206.19 L166.58,207.00 L167.07,207.82 L167.56,208.67 L168.05,209.53 L168.54,210.41 L169.03,211.31 L169.52,212.22 L170.01,213.15 L170.50,214.10 L170.99,215.05 L171.48,216.02 L171.97,217.00 L172.45,218.00 L172.94,219.00 L173.43,220.02 L173.92,221.04 L174.41,222.07 L174.90,223.11 L175.39,224.16 L175.88,225.22 L176.37,226.27 L176.86,227.34 L177.35,228.41 L177.83,229.48 L178.32,230.55 L178.81,231.63 L179.30,232.71 L179.79,233.79 L180.28,234.86 L180.77,235.94 L181.26,237.02 L181.75,238.09 L182.24,239.17 L182.73,240.23 L183.22,241.30 L183.70,242.36 L184.19,243.42 L184.68,244.47 L185.17,245.51 L185.66,246.55 L186.15,247.58 L186.64,248.61 L187.13,249.62 L187.62,250.63 L188.11,251.63 L188.60,252.62 L189.08,253.60 L189.57,254.57 L190.06,255.53 L190.55,256.48 L191.04,257.42 L191.53,258.35 L192.02,259.27 L192.51,260.17 L193.00,261.06 L193.49,261.94 L193.98,262.81 L194.47,263.67 L194.95,264.51 L195.44,265.34 L195.93,266.15 L196.42,266.96 L196.91,267.75 L197.40,268.52 L197.89,269.28 L198.38,270.03 L198.87,270.77 L199.36,271.49 L199.85,272.19 L200.33,272.89 L200.82,273.57 L201.31,274.23 L201.80,274.88 L202.29,275.52 L202.78,276.15 L203.27,276.76 L203.76,277.35 L204.25,277.94 L204.74,278.51 L205.23,279.06 L205.72,279.60 L206.20,280.13 L206.69,280.65 L207.18,281.16 L207.67,281.65 L208.16,282.12 L208.65,282.59 L209.14,283.04 L209.63,283.49 L210.12,283.91 L210.61,284.33 L211.10,284.74 L211.58,285.13 L212.07,285.51 L212.56,285.89 L213.05,286.25 L213.54,286.60 L214.03,286.94 L214.52,287.27 L215.01,287.59 L215.50,287.89 L215.99,288.19 L216.48,288.48 L216.97,288.76 L217.45,289.04 L217.94,289.30 L218.43,289.55 L218.92,289.80 L219.41,290.03 L219.90,290.26 L220.39,290.48 L220.88,290.70 L221.37,290.90 L221.86,291.10 L222.35,291.29 L222.83,291.47 L223.32,291.65 L223.81,291.82 L224.30,291.99 L224.79,292.15 L225.28,292.30 L225.77,292.44 L226.26,292.58 L226.75,292.72 L227.24,292.85 L227.73,292.97 L228.22,293.09 L228.70,293.21 L229.19,293.32 L229.68,293.42 L230.17,293.52 L230.66,293.62 L231.15,293.71 L231.64,293.80 L232.13,293.89 L232.62,293.97 L233.11,294.05 L233.60,294.12 L234.08,294.19 L234.57,294.26 L235.06,294.33 L235.55,294.39 L236.04,294.45 L236.53,294.50 L237.02,294.56 L237.51,294.61 L238.00,294.66 L238.49,294.71 L238.98,294.75 L239.47,294.79 L239.95,294.83 L240.44,294.87 L240.93,294.91 L241.42,294.94 L241.91,294.98 L242.40,295.01 L242.89,295.04 L243.38,295.07 L243.87,295.09 L244.36,295.12 L244.85,295.14 L245.33,295.17 L245.82,295.19 L246.31,295.21 L246.80,295.23 L247.29,295.25 L247.78,295.26 L248.27,295.28 L248.76,295.30 L249.25,295.31 L249.74,295.33 L250.23,295.34 L250.72,295.35 L251.20,295.36 L251.69,295.37 L252.18,295.39 L252.67,295.40 L253.16,295.40 L253.65,295.41 L254.14,295.42 L254.63,295.43 L255.12,295.44 L255.61,295.44 L256.10,295.45 L256.58,295.46 L257.07,295.46 L257.56,295.47 L258.05,295.47 L258.54,295.48 L259.03,295.48 L259.52,295.49 L260.01,295.49 L260.50,295.50 L260.99,295.50 L261.48,295.50 L261.97,295.51 L262.45,295.51 L262.94,295.51 L263.43,295.51 L263.92,295.52 L264.41,295.52 L264.90,295.52" fill="none" stroke="#4472c4" stroke-width="1.45" stroke-linejoin="round"/>
<text x="32.30" y="299.15" text-anchor="end" font-family='"Liberation Serif", serif' font-size="8.4" fill="#404040" stroke="#404040" stroke-width="0.3">0</text>
<text x="32.30" y="270.87" text-anchor="end" font-family='"Liberation Serif", serif' font-size="8.4" fill="#404040" stroke="#404040" stroke-width="0.3">4</text>
<text x="32.30" y="242.59" text-anchor="end" font-family='"Liberation Serif", serif' font-size="8.4" fill="#404040" stroke="#404040" stroke-width="0.3">8</text>
<text x="32.30" y="214.32" text-anchor="end" font-family='"Liberation Serif", serif' font-size="8.4" fill="#404040" stroke="#404040" stroke-width="0.3">12</text>
<text x="32.30" y="186.04" text-anchor="end" font-family='"Liberation Serif", serif' font-size="8.4" fill="#404040" stroke="#404040" stroke-width="0.3">16</text>
<text x="40.20" y="306.40" text-anchor="middle" font-family='"Liberation Serif", serif' font-size="7.4" textLength="16.91" lengthAdjust="spacingAndGlyphs" fill="#404040" stroke="#404040" stroke-width="0.2">-5.9%</text>
<text x="68.32" y="306.40" text-anchor="middle" font-family='"Liberation Serif", serif' font-size="7.4" textLength="16.91" lengthAdjust="spacingAndGlyphs" fill="#404040" stroke="#404040" stroke-width="0.2">-3.1%</text>
<text x="96.45" y="306.40" text-anchor="middle" font-family='"Liberation Serif", serif' font-size="7.4" textLength="16.91" lengthAdjust="spacingAndGlyphs" fill="#404040" stroke="#404040" stroke-width="0.2">-0.3%</text>
<text x="124.57" y="306.40" text-anchor="middle" font-family='"Liberation Serif", serif' font-size="7.4" textLength="14.58" lengthAdjust="spacingAndGlyphs" fill="#404040" stroke="#404040" stroke-width="0.2">2.5%</text>
<text x="152.70" y="306.40" text-anchor="middle" font-family='"Liberation Serif", serif' font-size="7.4" textLength="14.58" lengthAdjust="spacingAndGlyphs" fill="#404040" stroke="#404040" stroke-width="0.2">5.3%</text>
<text x="180.82" y="306.40" text-anchor="middle" font-family='"Liberation Serif", serif' font-size="7.4" textLength="14.58" lengthAdjust="spacingAndGlyphs" fill="#404040" stroke="#404040" stroke-width="0.2">8.1%</text>
<text x="208.95" y="306.40" text-anchor="middle" font-family='"Liberation Serif", serif' font-size="7.4" textLength="18.08" lengthAdjust="spacingAndGlyphs" fill="#404040" stroke="#404040" stroke-width="0.2">10.9%</text>
<text x="237.07" y="306.40" text-anchor="middle" font-family='"Liberation Serif", serif' font-size="7.4" textLength="18.08" lengthAdjust="spacingAndGlyphs" fill="#404040" stroke="#404040" stroke-width="0.2">13.7%</text>
<text x="265.20" y="306.40" text-anchor="middle" font-family='"Liberation Serif", serif' font-size="7.4" textLength="18.08" lengthAdjust="spacingAndGlyphs" fill="#404040" stroke="#404040" stroke-width="0.2">16.5%</text>
<text transform="translate(19.60,239.00) rotate(-90)" text-anchor="middle" font-family='"Liberation Serif", serif' font-size="7.4" fill="#404040" stroke="#404040" stroke-width="0.2" textLength="26" lengthAdjust="spacingAndGlyphs">Density</text>
<text x="77.6" y="316.4" font-family='"Liberation Serif", serif' font-size="9.4" fill="#262626" stroke="#262626" stroke-width="0.18" textLength="150.8" lengthAdjust="spacingAndGlyphs">Maximum temperature rise among phases.</text>
<text x="206.30" y="202.70" font-family='"Liberation Serif", serif' font-style="italic" font-size="12" fill="#262626" stroke="#262626" stroke-width="0.3">μ</text>
<text x="215.70" y="202.70" font-family='"Liberation Sans", sans-serif' font-size="11" fill="#262626" stroke="#262626" stroke-width="0.3" textLength="7.4" lengthAdjust="spacingAndGlyphs">=</text>
<text x="227.30" y="202.70" font-family='"Liberation Sans", sans-serif' font-size="10.6" fill="#262626" stroke="#262626" stroke-width="0.25" textLength="25.00" lengthAdjust="spacingAndGlyphs">5.3%</text>
<text x="206.30" y="215.90" font-family='"Liberation Serif", serif' font-style="italic" font-size="12" fill="#262626" stroke="#262626" stroke-width="0.3">ρ</text>
<text x="215.70" y="215.90" font-family='"Liberation Sans", sans-serif' font-size="11" fill="#262626" stroke="#262626" stroke-width="0.3" textLength="7.4" lengthAdjust="spacingAndGlyphs">=</text>
<text x="227.30" y="215.90" font-family='"Liberation Sans", sans-serif' font-size="10.6" fill="#262626" stroke="#262626" stroke-width="0.25" textLength="25.00" lengthAdjust="spacingAndGlyphs">2.8%</text>
<text x="198.5" y="292" font-family='"Liberation Sans", sans-serif' font-size="7.0" font-weight="bold" fill="#242c3d" stroke="#242c3d" stroke-width="0.2" textLength="16.0" lengthAdjust="spacingAndGlyphs">4.4%</text>
<text x="183" y="294.5" font-family='"Liberation Serif", serif' font-size="7.0" fill="#333" stroke="#333" stroke-width="0.25" textLength="12.0" lengthAdjust="spacingAndGlyphs">10%</text>
<text x="5.30" y="342" font-family='"Liberation Serif", serif' font-size="13.0" fill="#000" textLength="14.20" lengthAdjust="spacingAndGlyphs">(<tspan font-weight="bold">c</tspan>)</text>
<text x="22.40" y="342" font-family='"Liberation Serif", serif' font-size="13.0" fill="#000" textLength="219.30" lengthAdjust="spacingAndGlyphs">Case study 3: Less than 15% mismatch;</text></g>
<g id="pd"><line x1="312.00" y1="256.82" x2="536.90" y2="256.82" stroke="#e6e6e6" stroke-width="0.8"/>
<line x1="312.00" y1="219.13" x2="536.90" y2="219.13" stroke="#e6e6e6" stroke-width="0.8"/>
<line x1="340.11" y1="181.45" x2="340.11" y2="294.50" stroke="#e6e6e6" stroke-width="0.8"/>
<line x1="368.23" y1="181.45" x2="368.23" y2="294.50" stroke="#e6e6e6" stroke-width="0.8"/>
<line x1="396.34" y1="181.45" x2="396.34" y2="294.50" stroke="#e6e6e6" stroke-width="0.8"/>
<line x1="424.45" y1="181.45" x2="424.45" y2="294.50" stroke="#e6e6e6" stroke-width="0.8"/>
<line x1="452.56" y1="181.45" x2="452.56" y2="294.50" stroke="#e6e6e6" stroke-width="0.8"/>
<line x1="480.67" y1="181.45" x2="480.67" y2="294.50" stroke="#e6e6e6" stroke-width="0.8"/>
<line x1="508.79" y1="181.45" x2="508.79" y2="294.50" stroke="#e6e6e6" stroke-width="0.8"/>
<rect x="471.6" y="188.6" width="59.70" height="32.80" fill="#fff"/>
<path d="M448.30,294.50 L448.30,223.41 L448.41,223.63 L448.90,224.67 L449.38,225.71 L449.87,226.75 L450.36,227.80 L450.85,228.85 L451.34,229.90 L451.83,230.96 L452.32,232.02 L452.81,233.07 L453.30,234.13 L453.78,235.19 L454.27,236.24 L454.76,237.30 L455.25,238.35 L455.74,239.40 L456.23,240.44 L456.72,241.48 L457.21,242.52 L457.70,243.55 L458.18,244.58 L458.67,245.60 L459.16,246.61 L459.65,247.61 L460.14,248.61 L460.63,249.60 L461.12,250.58 L461.61,251.56 L462.10,252.52 L462.59,253.48 L463.07,254.42 L463.56,255.35 L464.05,256.28 L464.54,257.19 L465.03,258.09 L465.52,258.98 L466.01,259.86 L466.50,260.73 L466.99,261.59 L467.47,262.43 L467.96,263.26 L468.45,264.08 L468.94,264.89 L469.43,265.68 L469.92,266.46 L470.41,267.23 L470.90,267.98 L471.39,268.72 L471.87,269.45 L472.36,270.16 L472.85,270.86 L473.34,271.55 L473.83,272.23 L474.32,272.89 L474.81,273.53 L475.30,274.17 L475.79,274.79 L476.27,275.40 L476.76,275.99 L477.25,276.57 L477.74,277.14 L478.23,277.69 L478.72,278.24 L479.21,278.76 L479.70,279.28 L480.19,279.79 L480.67,280.28 L481.16,280.76 L481.65,281.22 L482.14,281.68 L482.63,282.12 L483.12,282.55 L483.61,282.97 L484.10,283.38 L484.59,283.78 L485.08,284.16 L485.56,284.54 L486.05,284.90 L486.54,285.25 L487.03,285.60 L487.52,285.93 L488.01,286.25 L488.50,286.57 L488.99,286.87 L489.48,287.16 L489.96,287.45 L490.45,287.72 L490.94,287.99 L491.43,288.25 L491.92,288.50 L492.41,288.74 L492.90,288.97 L493.39,289.20 L493.88,289.42 L494.36,289.63 L494.85,289.83 L495.34,290.03 L495.83,290.22 L496.32,290.40 L496.81,290.57 L497.30,290.74 L497.79,290.91 L498.28,291.06 L498.76,291.21 L499.25,291.36 L499.74,291.50 L500.23,291.63 L500.72,291.76 L501.21,291.89 L501.70,292.01 L502.19,292.12 L502.68,292.23 L503.16,292.34 L503.65,292.44 L504.14,292.53 L504.63,292.63 L505.12,292.72 L505.61,292.80 L506.10,292.88 L506.59,292.96 L507.08,293.04 L507.57,293.11 L508.05,293.18 L508.54,293.24 L509.03,293.31 L509.52,293.37 L510.01,293.42 L510.50,293.48 L510.99,293.53 L511.48,293.58 L511.97,293.63 L512.45,293.67 L512.94,293.71 L513.43,293.76 L513.92,293.80 L514.41,293.83 L514.90,293.87 L515.39,293.90 L515.88,293.93 L516.37,293.96 L516.85,293.99 L517.34,294.02 L517.83,294.05 L518.32,294.07 L518.81,294.10 L519.30,294.12 L519.79,294.14 L520.28,294.16 L520.77,294.18 L521.25,294.20 L521.74,294.22 L522.23,294.23 L522.72,294.25 L523.21,294.26 L523.70,294.28 L524.19,294.29 L524.68,294.30 L525.17,294.31 L525.65,294.32 L526.14,294.33 L526.63,294.34 L527.12,294.35 L527.61,294.36 L528.10,294.37 L528.59,294.38 L529.08,294.39 L529.57,294.39 L530.06,294.40 L530.54,294.41 L531.03,294.41 L531.52,294.42 L532.01,294.42 L532.50,294.43 L532.99,294.43 L533.48,294.44 L533.97,294.44 L534.46,294.44 L534.94,294.45 L535.43,294.45 L535.92,294.45 L536.41,294.46 L536.90,294.46 L536.90,294.50 Z" fill="#4472c4" fill-opacity="0.71"/>
<path d="M312.0,294.5 L312.0,181.45 L536.9,181.45 L536.9,294.5 Z" fill="none" stroke="#8f8f8f" stroke-width="1.25"/>
<path d="M312.00,294.46 L312.49,294.46 L312.98,294.45 L313.47,294.45 L313.96,294.45 L314.44,294.44 L314.93,294.44 L315.42,294.44 L315.91,294.43 L316.40,294.43 L316.89,294.42 L317.38,294.42 L317.87,294.41 L318.36,294.40 L318.84,294.40 L319.33,294.39 L319.82,294.38 L320.31,294.38 L320.80,294.37 L321.29,294.36 L321.78,294.35 L322.27,294.34 L322.76,294.33 L323.25,294.32 L323.73,294.31 L324.22,294.30 L324.71,294.29 L325.20,294.27 L325.69,294.26 L326.18,294.24 L326.67,294.23 L327.16,294.21 L327.65,294.19 L328.13,294.18 L328.62,294.16 L329.11,294.14 L329.60,294.11 L330.09,294.09 L330.58,294.07 L331.07,294.04 L331.56,294.02 L332.05,293.99 L332.53,293.96 L333.02,293.93 L333.51,293.90 L334.00,293.86 L334.49,293.83 L334.98,293.79 L335.47,293.75 L335.96,293.71 L336.45,293.66 L336.93,293.62 L337.42,293.57 L337.91,293.52 L338.40,293.47 L338.89,293.41 L339.38,293.35 L339.87,293.29 L340.36,293.23 L340.85,293.16 L341.33,293.09 L341.82,293.02 L342.31,292.95 L342.80,292.87 L343.29,292.78 L343.78,292.70 L344.27,292.61 L344.76,292.51 L345.25,292.42 L345.74,292.31 L346.22,292.21 L346.71,292.10 L347.20,291.98 L347.69,291.86 L348.18,291.74 L348.67,291.61 L349.16,291.47 L349.65,291.33 L350.14,291.18 L350.62,291.03 L351.11,290.87 L351.60,290.71 L352.09,290.54 L352.58,290.36 L353.07,290.18 L353.56,289.99 L354.05,289.79 L354.54,289.59 L355.02,289.37 L355.51,289.15 L356.00,288.93 L356.49,288.69 L356.98,288.45 L357.47,288.20 L357.96,287.94 L358.45,287.67 L358.94,287.39 L359.42,287.10 L359.91,286.81 L360.40,286.50 L360.89,286.19 L361.38,285.86 L361.87,285.53 L362.36,285.18 L362.85,284.83 L363.34,284.46 L363.82,284.08 L364.31,283.70 L364.80,283.30 L365.29,282.89 L365.78,282.46 L366.27,282.03 L366.76,281.59 L367.25,281.13 L367.74,280.66 L368.23,280.18 L368.71,279.68 L369.20,279.18 L369.69,278.66 L370.18,278.13 L370.67,277.58 L371.16,277.02 L371.65,276.45 L372.14,275.87 L372.63,275.27 L373.11,274.66 L373.60,274.04 L374.09,273.40 L374.58,272.75 L375.07,272.09 L375.56,271.41 L376.05,270.72 L376.54,270.02 L377.03,269.30 L377.51,268.57 L378.00,267.83 L378.49,267.07 L378.98,266.30 L379.47,265.52 L379.96,264.72 L380.45,263.91 L380.94,263.09 L381.43,262.26 L381.91,261.41 L382.40,260.56 L382.89,259.69 L383.38,258.80 L383.87,257.91 L384.36,257.01 L384.85,256.09 L385.34,255.16 L385.83,254.23 L386.31,253.28 L386.80,252.32 L387.29,251.36 L387.78,250.38 L388.27,249.40 L388.76,248.41 L389.25,247.41 L389.74,246.40 L390.23,245.39 L390.71,244.37 L391.20,243.34 L391.69,242.31 L392.18,241.27 L392.67,240.23 L393.16,239.18 L393.65,238.13 L394.14,237.08 L394.63,236.03 L395.12,234.97 L395.60,233.91 L396.09,232.86 L396.58,231.80 L397.07,230.74 L397.56,229.69 L398.05,228.63 L398.54,227.58 L399.03,226.54 L399.52,225.49 L400.00,224.45 L400.49,223.42 L400.98,222.39 L401.47,221.37 L401.96,220.36 L402.45,219.36 L402.94,218.36 L403.43,217.38 L403.92,216.40 L404.40,215.44 L404.89,214.49 L405.38,213.55 L405.87,212.62 L406.36,211.71 L406.85,210.81 L407.34,209.93 L407.83,209.06 L408.32,208.21 L408.80,207.38 L409.29,206.56 L409.78,205.77 L410.27,204.99 L410.76,204.23 L411.25,203.50 L411.74,202.78 L412.23,202.09 L412.72,201.42 L413.20,200.77 L413.69,200.15 L414.18,199.55 L414.67,198.97 L415.16,198.42 L415.65,197.90 L416.14,197.40 L416.63,196.92 L417.12,196.48 L417.61,196.06 L418.09,195.67 L418.58,195.30 L419.07,194.97 L419.56,194.66 L420.05,194.38 L420.54,194.13 L421.03,193.91 L421.52,193.72 L422.01,193.56 L422.49,193.43 L422.98,193.33 L423.47,193.25 L423.96,193.21 L424.45,193.20 L424.94,193.22 L425.43,193.27 L425.92,193.34 L426.41,193.45 L426.89,193.59 L427.38,193.76 L427.87,193.95 L428.36,194.18 L428.85,194.44 L429.34,194.72 L429.83,195.03 L430.32,195.37 L430.81,195.74 L431.29,196.14 L431.78,196.57 L432.27,197.02 L432.76,197.50 L433.25,198.00 L433.74,198.53 L434.23,199.09 L434.72,199.67 L435.21,200.27 L435.69,200.90 L436.18,201.56 L436.67,202.23 L437.16,202.93 L437.65,203.65 L438.14,204.39 L438.63,205.15 L439.12,205.93 L439.61,206.73 L440.10,207.55 L440.58,208.38 L441.07,209.24 L441.56,210.11 L442.05,210.99 L442.54,211.89 L443.03,212.81 L443.52,213.74 L444.01,214.68 L444.50,215.63 L444.98,216.60 L445.47,217.58 L445.96,218.57 L446.45,219.56 L446.94,220.57 L447.43,221.58 L447.92,222.60 L448.41,223.63 L448.90,224.67 L449.38,225.71 L449.87,226.75 L450.36,227.80 L450.85,228.85 L451.34,229.90 L451.83,230.96 L452.32,232.02 L452.81,233.07 L453.30,234.13 L453.78,235.19 L454.27,236.24 L454.76,237.30 L455.25,238.35 L455.74,239.40 L456.23,240.44 L456.72,241.48 L457.21,242.52 L457.70,243.55 L458.18,244.58 L458.67,245.60 L459.16,246.61 L459.65,247.61 L460.14,248.61 L460.63,249.60 L461.12,250.58 L461.61,251.56 L462.10,252.52 L462.59,253.48 L463.07,254.42 L463.56,255.35 L464.05,256.28 L464.54,257.19 L465.03,258.09 L465.52,258.98 L466.01,259.86 L466.50,260.73 L466.99,261.59 L467.47,262.43 L467.96,263.26 L468.45,264.08 L468.94,264.89 L469.43,265.68 L469.92,266.46 L470.41,267.23 L470.90,267.98 L471.39,268.72 L471.87,269.45 L472.36,270.16 L472.85,270.86 L473.34,271.55 L473.83,272.23 L474.32,272.89 L474.81,273.53 L475.30,274.17 L475.79,274.79 L476.27,275.40 L476.76,275.99 L477.25,276.57 L477.74,277.14 L478.23,277.69 L478.72,278.24 L479.21,278.76 L479.70,279.28 L480.19,279.79 L480.67,280.28 L481.16,280.76 L481.65,281.22 L482.14,281.68 L482.63,282.12 L483.12,282.55 L483.61,282.97 L484.10,283.38 L484.59,283.78 L485.08,284.16 L485.56,284.54 L486.05,284.90 L486.54,285.25 L487.03,285.60 L487.52,285.93 L488.01,286.25 L488.50,286.57 L488.99,286.87 L489.48,287.16 L489.96,287.45 L490.45,287.72 L490.94,287.99 L491.43,288.25 L491.92,288.50 L492.41,288.74 L492.90,288.97 L493.39,289.20 L493.88,289.42 L494.36,289.63 L494.85,289.83 L495.34,290.03 L495.83,290.22 L496.32,290.40 L496.81,290.57 L497.30,290.74 L497.79,290.91 L498.28,291.06 L498.76,291.21 L499.25,291.36 L499.74,291.50 L500.23,291.63 L500.72,291.76 L501.21,291.89 L501.70,292.01 L502.19,292.12 L502.68,292.23 L503.16,292.34 L503.65,292.44 L504.14,292.53 L504.63,292.63 L505.12,292.72 L505.61,292.80 L506.10,292.88 L506.59,292.96 L507.08,293.04 L507.57,293.11 L508.05,293.18 L508.54,293.24 L509.03,293.31 L509.52,293.37 L510.01,293.42 L510.50,293.48 L510.99,293.53 L511.48,293.58 L511.97,293.63 L512.45,293.67 L512.94,293.71 L513.43,293.76 L513.92,293.80 L514.41,293.83 L514.90,293.87 L515.39,293.90 L515.88,293.93 L516.37,293.96 L516.85,293.99 L517.34,294.02 L517.83,294.05 L518.32,294.07 L518.81,294.10 L519.30,294.12 L519.79,294.14 L520.28,294.16 L520.77,294.18 L521.25,294.20 L521.74,294.22 L522.23,294.23 L522.72,294.25 L523.21,294.26 L523.70,294.28 L524.19,294.29 L524.68,294.30 L525.17,294.31 L525.65,294.32 L526.14,294.33 L526.63,294.34 L527.12,294.35 L527.61,294.36 L528.10,294.37 L528.59,294.38 L529.08,294.39 L529.57,294.39 L530.06,294.40 L530.54,294.41 L531.03,294.41 L531.52,294.42 L532.01,294.42 L532.50,294.43 L532.99,294.43 L533.48,294.44 L533.97,294.44 L534.46,294.44 L534.94,294.45 L535.43,294.45 L535.92,294.45 L536.41,294.46 L536.90,294.46" fill="none" stroke="#4472c4" stroke-width="1.45" stroke-linejoin="round"/>
<text x="304.40" y="298.10" text-anchor="end" font-family='"Liberation Sans", sans-serif' font-size="7.9" fill="#404040" stroke="#404040" stroke-width="0.3">0</text>
<text x="304.40" y="260.42" text-anchor="end" font-family='"Liberation Sans", sans-serif' font-size="7.9" fill="#404040" stroke="#404040" stroke-width="0.3">4</text>
<text x="304.40" y="222.73" text-anchor="end" font-family='"Liberation Sans", sans-serif' font-size="7.9" fill="#404040" stroke="#404040" stroke-width="0.3">8</text>
<text x="304.40" y="185.05" text-anchor="end" font-family='"Liberation Sans", sans-serif' font-size="7.9" fill="#404040" stroke="#404040" stroke-width="0.3">12</text>
<text x="312.30" y="305.90" text-anchor="middle" font-family='"Liberation Serif", serif' font-size="7.4" textLength="16.91" lengthAdjust="spacingAndGlyphs" fill="#404040" stroke="#404040" stroke-width="0.2">-7.8%</text>
<text x="340.41" y="305.90" text-anchor="middle" font-family='"Liberation Serif", serif' font-size="7.4" textLength="16.91" lengthAdjust="spacingAndGlyphs" fill="#404040" stroke="#404040" stroke-width="0.2">-4.1%</text>
<text x="368.53" y="305.90" text-anchor="middle" font-family='"Liberation Serif", serif' font-size="7.4" textLength="16.91" lengthAdjust="spacingAndGlyphs" fill="#404040" stroke="#404040" stroke-width="0.2">-0.4%</text>
<text x="396.64" y="305.90" text-anchor="middle" font-family='"Liberation Serif", serif' font-size="7.4" textLength="14.58" lengthAdjust="spacingAndGlyphs" fill="#404040" stroke="#404040" stroke-width="0.2">3.3%</text>
<text x="424.75" y="305.90" text-anchor="middle" font-family='"Liberation Serif", serif' font-size="7.4" textLength="14.58" lengthAdjust="spacingAndGlyphs" fill="#404040" stroke="#404040" stroke-width="0.2">7.0%</text>
<text x="452.86" y="305.90" text-anchor="middle" font-family='"Liberation Serif", serif' font-size="7.4" textLength="18.08" lengthAdjust="spacingAndGlyphs" fill="#404040" stroke="#404040" stroke-width="0.2">10.7%</text>
<text x="480.97" y="305.90" text-anchor="middle" font-family='"Liberation Serif", serif' font-size="7.4" textLength="18.08" lengthAdjust="spacingAndGlyphs" fill="#404040" stroke="#404040" stroke-width="0.2">14.4%</text>
<text x="509.09" y="305.90" text-anchor="middle" font-family='"Liberation Serif", serif' font-size="7.4" textLength="18.08" lengthAdjust="spacingAndGlyphs" fill="#404040" stroke="#404040" stroke-width="0.2">18.1%</text>
<text x="537.20" y="305.90" text-anchor="middle" font-family='"Liberation Serif", serif' font-size="7.4" textLength="18.08" lengthAdjust="spacingAndGlyphs" fill="#404040" stroke="#404040" stroke-width="0.2">21.8%</text>
<text transform="translate(292.00,237.97) rotate(-90)" text-anchor="middle" font-family='"Liberation Sans", sans-serif' font-size="7.0" fill="#404040" stroke="#404040" stroke-width="0.2" textLength="26" lengthAdjust="spacingAndGlyphs">Density</text>
<text x="350" y="315.6" font-family='"Liberation Serif", serif' font-size="9.4" fill="#262626" stroke="#262626" stroke-width="0.18" textLength="150.4" lengthAdjust="spacingAndGlyphs">Maximum temperature rise among phases.</text>
<text x="478.30" y="202.70" font-family='"Liberation Serif", serif' font-style="italic" font-size="12" fill="#262626" stroke="#262626" stroke-width="0.3">μ</text>
<text x="487.70" y="202.70" font-family='"Liberation Sans", sans-serif' font-size="11" fill="#262626" stroke="#262626" stroke-width="0.3" textLength="7.4" lengthAdjust="spacingAndGlyphs">=</text>
<text x="499.30" y="202.70" font-family='"Liberation Sans", sans-serif' font-size="10.6" fill="#262626" stroke="#262626" stroke-width="0.25" textLength="16.70" lengthAdjust="spacingAndGlyphs">7%</text>
<text x="478.30" y="215.90" font-family='"Liberation Serif", serif' font-style="italic" font-size="12" fill="#262626" stroke="#262626" stroke-width="0.3">ρ</text>
<text x="487.70" y="215.90" font-family='"Liberation Sans", sans-serif' font-size="11" fill="#262626" stroke="#262626" stroke-width="0.3" textLength="7.4" lengthAdjust="spacingAndGlyphs">=</text>
<text x="499.30" y="215.90" font-family='"Liberation Sans", sans-serif' font-size="10.6" fill="#262626" stroke="#262626" stroke-width="0.25" textLength="24.70" lengthAdjust="spacingAndGlyphs">3.8%</text>
<text x="453" y="281.2" font-family='"Liberation Sans", sans-serif' font-size="7.0" font-weight="bold" fill="#242c3d" stroke="#242c3d" stroke-width="0.2" textLength="21.0" lengthAdjust="spacingAndGlyphs">20.4%</text>
<text x="434.2" y="293" font-family='"Liberation Serif", serif' font-size="7.0" fill="#333" stroke="#333" stroke-width="0.25" textLength="12.6" lengthAdjust="spacingAndGlyphs">10%</text>
<text x="277.70" y="342" font-family='"Liberation Serif", serif' font-size="13.0" fill="#000" textLength="15.60" lengthAdjust="spacingAndGlyphs">(<tspan font-weight="bold">d</tspan>)</text>
<text x="296.60" y="342" font-family='"Liberation Serif", serif' font-size="13.0" fill="#000" textLength="219.50" lengthAdjust="spacingAndGlyphs">Case study 4: Less than 20% mismatch;</text></g>
<g id="pe"><line x1="35.45" y1="429.81" x2="265.40" y2="429.81" stroke="#e6e6e6" stroke-width="0.8"/>
<line x1="35.45" y1="392.18" x2="265.40" y2="392.18" stroke="#e6e6e6" stroke-width="0.8"/>
<line x1="64.19" y1="354.55" x2="64.19" y2="467.44" stroke="#e6e6e6" stroke-width="0.8"/>
<line x1="92.94" y1="354.55" x2="92.94" y2="467.44" stroke="#e6e6e6" stroke-width="0.8"/>
<line x1="121.68" y1="354.55" x2="121.68" y2="467.44" stroke="#e6e6e6" stroke-width="0.8"/>
<line x1="150.43" y1="354.55" x2="150.43" y2="467.44" stroke="#e6e6e6" stroke-width="0.8"/>
<line x1="179.17" y1="354.55" x2="179.17" y2="467.44" stroke="#e6e6e6" stroke-width="0.8"/>
<line x1="207.91" y1="354.55" x2="207.91" y2="467.44" stroke="#e6e6e6" stroke-width="0.8"/>
<line x1="236.66" y1="354.55" x2="236.66" y2="467.44" stroke="#e6e6e6" stroke-width="0.8"/>
<rect x="198.7" y="361" width="59.70" height="32.00" fill="#fff"/>
<path d="M156.90,467.44 L156.90,363.66 L156.92,363.68 L157.42,364.09 L157.92,364.53 L158.42,365.00 L158.92,365.50 L159.42,366.03 L159.92,366.58 L160.42,367.17 L160.92,367.78 L161.42,368.41 L161.92,369.07 L162.42,369.76 L162.92,370.47 L163.42,371.20 L163.92,371.96 L164.42,372.74 L164.92,373.54 L165.42,374.37 L165.92,375.21 L166.42,376.08 L166.92,376.96 L167.42,377.86 L167.92,378.78 L168.42,379.72 L168.92,380.67 L169.42,381.64 L169.92,382.63 L170.42,383.62 L170.92,384.64 L171.42,385.66 L171.92,386.69 L172.42,387.74 L172.92,388.80 L173.42,389.86 L173.92,390.94 L174.42,392.02 L174.92,393.11 L175.42,394.21 L175.92,395.31 L176.42,396.42 L176.92,397.53 L177.42,398.64 L177.92,399.76 L178.42,400.88 L178.92,402.00 L179.42,403.12 L179.92,404.24 L180.42,405.36 L180.92,406.48 L181.42,407.60 L181.92,408.71 L182.42,409.82 L182.92,410.93 L183.42,412.03 L183.92,413.13 L184.42,414.22 L184.92,415.30 L185.42,416.38 L185.92,417.45 L186.42,418.52 L186.92,419.57 L187.42,420.62 L187.92,421.66 L188.42,422.69 L188.92,423.70 L189.42,424.71 L189.92,425.71 L190.42,426.70 L190.92,427.67 L191.42,428.64 L191.92,429.59 L192.42,430.53 L192.92,431.46 L193.42,432.37 L193.92,433.27 L194.42,434.16 L194.92,435.04 L195.42,435.90 L195.92,436.75 L196.41,437.58 L196.91,438.40 L197.41,439.21 L197.91,440.00 L198.41,440.78 L198.91,441.54 L199.41,442.29 L199.91,443.03 L200.41,443.75 L200.91,444.45 L201.41,445.15 L201.91,445.82 L202.41,446.49 L202.91,447.14 L203.41,447.77 L203.91,448.39 L204.41,449.00 L204.91,449.59 L205.41,450.17 L205.91,450.74 L206.41,451.29 L206.91,451.83 L207.41,452.35 L207.91,452.87 L208.41,453.36 L208.91,453.85 L209.41,454.32 L209.91,454.78 L210.41,455.23 L210.91,455.67 L211.41,456.09 L211.91,456.50 L212.41,456.90 L212.91,457.29 L213.41,457.67 L213.91,458.03 L214.41,458.39 L214.91,458.73 L215.41,459.06 L215.91,459.39 L216.41,459.70 L216.91,460.00 L217.41,460.30 L217.91,460.58 L218.41,460.86 L218.91,461.12 L219.41,461.38 L219.91,461.63 L220.41,461.87 L220.91,462.10 L221.41,462.32 L221.91,462.54 L222.41,462.74 L222.91,462.94 L223.41,463.14 L223.91,463.32 L224.41,463.50 L224.91,463.67 L225.41,463.84 L225.91,464.00 L226.41,464.15 L226.91,464.30 L227.41,464.44 L227.91,464.58 L228.41,464.71 L228.91,464.84 L229.41,464.96 L229.91,465.07 L230.41,465.18 L230.91,465.29 L231.41,465.39 L231.91,465.49 L232.41,465.58 L232.91,465.67 L233.41,465.76 L233.91,465.84 L234.41,465.92 L234.91,466.00 L235.41,466.07 L235.91,466.14 L236.41,466.20 L236.91,466.27 L237.41,466.33 L237.91,466.38 L238.41,466.44 L238.91,466.49 L239.41,466.54 L239.91,466.59 L240.41,466.63 L240.91,466.67 L241.41,466.72 L241.91,466.75 L242.40,466.79 L242.90,466.83 L243.40,466.86 L243.90,466.89 L244.40,466.92 L244.90,466.95 L245.40,466.98 L245.90,467.00 L246.40,467.03 L246.90,467.05 L247.40,467.07 L247.90,467.09 L248.40,467.11 L248.90,467.13 L249.40,467.15 L249.90,467.17 L250.40,467.18 L250.90,467.20 L251.40,467.21 L251.90,467.23 L252.40,467.24 L252.90,467.25 L253.40,467.26 L253.90,467.27 L254.40,467.28 L254.90,467.29 L255.40,467.30 L255.90,467.31 L256.40,467.32 L256.90,467.33 L257.40,467.33 L257.90,467.34 L258.40,467.35 L258.90,467.35 L259.40,467.36 L259.90,467.36 L260.40,467.37 L260.90,467.37 L261.40,467.38 L261.90,467.38 L262.40,467.38 L262.90,467.39 L263.40,467.39 L263.90,467.39 L264.40,467.40 L264.90,467.40 L265.40,467.40 L265.40,467.44 Z" fill="#4472c4" fill-opacity="0.71"/>
<path d="M35.45,467.44 L35.45,354.55 L265.4,354.55 L265.4,467.44 Z" fill="none" stroke="#8f8f8f" stroke-width="1.25"/>
<path d="M35.45,467.41 L35.95,467.40 L36.45,467.40 L36.95,467.40 L37.45,467.39 L37.95,467.39 L38.45,467.39 L38.95,467.38 L39.45,467.38 L39.95,467.38 L40.45,467.37 L40.95,467.37 L41.45,467.36 L41.95,467.36 L42.45,467.35 L42.95,467.34 L43.45,467.34 L43.95,467.33 L44.45,467.32 L44.95,467.32 L45.45,467.31 L45.95,467.30 L46.45,467.29 L46.95,467.28 L47.45,467.27 L47.95,467.26 L48.45,467.25 L48.95,467.23 L49.45,467.22 L49.95,467.21 L50.45,467.19 L50.95,467.18 L51.45,467.16 L51.95,467.15 L52.45,467.13 L52.95,467.11 L53.45,467.09 L53.95,467.07 L54.45,467.04 L54.95,467.02 L55.45,467.00 L55.95,466.97 L56.45,466.94 L56.95,466.91 L57.45,466.88 L57.95,466.85 L58.45,466.82 L58.94,466.78 L59.44,466.74 L59.94,466.70 L60.44,466.66 L60.94,466.62 L61.44,466.57 L61.94,466.52 L62.44,466.47 L62.94,466.42 L63.44,466.37 L63.94,466.31 L64.44,466.25 L64.94,466.18 L65.44,466.12 L65.94,466.05 L66.44,465.97 L66.94,465.90 L67.44,465.82 L67.94,465.74 L68.44,465.65 L68.94,465.56 L69.44,465.46 L69.94,465.36 L70.44,465.26 L70.94,465.15 L71.44,465.04 L71.94,464.92 L72.44,464.80 L72.94,464.67 L73.44,464.54 L73.94,464.40 L74.44,464.26 L74.94,464.11 L75.44,463.95 L75.94,463.79 L76.44,463.62 L76.94,463.45 L77.44,463.27 L77.94,463.08 L78.44,462.88 L78.94,462.68 L79.44,462.47 L79.94,462.25 L80.44,462.03 L80.94,461.79 L81.44,461.55 L81.94,461.30 L82.44,461.04 L82.94,460.77 L83.44,460.50 L83.94,460.21 L84.44,459.91 L84.94,459.61 L85.44,459.29 L85.94,458.97 L86.44,458.63 L86.94,458.28 L87.44,457.92 L87.94,457.55 L88.44,457.17 L88.94,456.78 L89.44,456.38 L89.94,455.96 L90.44,455.54 L90.94,455.10 L91.44,454.65 L91.94,454.18 L92.44,453.71 L92.94,453.22 L93.44,452.71 L93.94,452.20 L94.44,451.67 L94.94,451.13 L95.44,450.57 L95.94,450.00 L96.44,449.42 L96.94,448.82 L97.44,448.21 L97.94,447.58 L98.44,446.94 L98.94,446.29 L99.44,445.62 L99.94,444.94 L100.44,444.24 L100.94,443.53 L101.44,442.81 L101.94,442.07 L102.44,441.31 L102.94,440.54 L103.44,439.76 L103.94,438.97 L104.44,438.16 L104.93,437.33 L105.43,436.49 L105.93,435.64 L106.43,434.77 L106.93,433.90 L107.43,433.00 L107.93,432.10 L108.43,431.18 L108.93,430.25 L109.43,429.30 L109.93,428.35 L110.43,427.38 L110.93,426.40 L111.43,425.41 L111.93,424.41 L112.43,423.40 L112.93,422.38 L113.43,421.35 L113.93,420.31 L114.43,419.26 L114.93,418.20 L115.43,417.13 L115.93,416.06 L116.43,414.98 L116.93,413.89 L117.43,412.80 L117.93,411.70 L118.43,410.60 L118.93,409.49 L119.43,408.38 L119.93,407.26 L120.43,406.14 L120.93,405.03 L121.43,403.90 L121.93,402.78 L122.43,401.66 L122.93,400.54 L123.43,399.42 L123.93,398.31 L124.43,397.19 L124.93,396.08 L125.43,394.98 L125.93,393.88 L126.43,392.78 L126.93,391.70 L127.43,390.62 L127.93,389.54 L128.43,388.48 L128.93,387.43 L129.43,386.38 L129.93,385.35 L130.43,384.33 L130.93,383.32 L131.43,382.33 L131.93,381.35 L132.43,380.39 L132.93,379.44 L133.43,378.51 L133.93,377.59 L134.43,376.69 L134.93,375.82 L135.43,374.96 L135.93,374.12 L136.43,373.30 L136.93,372.51 L137.43,371.73 L137.93,370.98 L138.43,370.25 L138.93,369.55 L139.43,368.87 L139.93,368.22 L140.43,367.59 L140.93,366.99 L141.43,366.42 L141.93,365.87 L142.43,365.35 L142.93,364.86 L143.43,364.40 L143.93,363.97 L144.43,363.56 L144.93,363.19 L145.43,362.85 L145.93,362.54 L146.43,362.25 L146.93,362.00 L147.43,361.79 L147.93,361.60 L148.43,361.44 L148.93,361.32 L149.43,361.23 L149.93,361.17 L150.43,361.14 L150.92,361.15 L151.42,361.18 L151.92,361.25 L152.42,361.35 L152.92,361.49 L153.42,361.65 L153.92,361.85 L154.42,362.08 L154.92,362.34 L155.42,362.63 L155.92,362.95 L156.42,363.30 L156.92,363.68 L157.42,364.09 L157.92,364.53 L158.42,365.00 L158.92,365.50 L159.42,366.03 L159.92,366.58 L160.42,367.17 L160.92,367.78 L161.42,368.41 L161.92,369.07 L162.42,369.76 L162.92,370.47 L163.42,371.20 L163.92,371.96 L164.42,372.74 L164.92,373.54 L165.42,374.37 L165.92,375.21 L166.42,376.08 L166.92,376.96 L167.42,377.86 L167.92,378.78 L168.42,379.72 L168.92,380.67 L169.42,381.64 L169.92,382.63 L170.42,383.62 L170.92,384.64 L171.42,385.66 L171.92,386.69 L172.42,387.74 L172.92,388.80 L173.42,389.86 L173.92,390.94 L174.42,392.02 L174.92,393.11 L175.42,394.21 L175.92,395.31 L176.42,396.42 L176.92,397.53 L177.42,398.64 L177.92,399.76 L178.42,400.88 L178.92,402.00 L179.42,403.12 L179.92,404.24 L180.42,405.36 L180.92,406.48 L181.42,407.60 L181.92,408.71 L182.42,409.82 L182.92,410.93 L183.42,412.03 L183.92,413.13 L184.42,414.22 L184.92,415.30 L185.42,416.38 L185.92,417.45 L186.42,418.52 L186.92,419.57 L187.42,420.62 L187.92,421.66 L188.42,422.69 L188.92,423.70 L189.42,424.71 L189.92,425.71 L190.42,426.70 L190.92,427.67 L191.42,428.64 L191.92,429.59 L192.42,430.53 L192.92,431.46 L193.42,432.37 L193.92,433.27 L194.42,434.16 L194.92,435.04 L195.42,435.90 L195.92,436.75 L196.41,437.58 L196.91,438.40 L197.41,439.21 L197.91,440.00 L198.41,440.78 L198.91,441.54 L199.41,442.29 L199.91,443.03 L200.41,443.75 L200.91,444.45 L201.41,445.15 L201.91,445.82 L202.41,446.49 L202.91,447.14 L203.41,447.77 L203.91,448.39 L204.41,449.00 L204.91,449.59 L205.41,450.17 L205.91,450.74 L206.41,451.29 L206.91,451.83 L207.41,452.35 L207.91,452.87 L208.41,453.36 L208.91,453.85 L209.41,454.32 L209.91,454.78 L210.41,455.23 L210.91,455.67 L211.41,456.09 L211.91,456.50 L212.41,456.90 L212.91,457.29 L213.41,457.67 L213.91,458.03 L214.41,458.39 L214.91,458.73 L215.41,459.06 L215.91,459.39 L216.41,459.70 L216.91,460.00 L217.41,460.30 L217.91,460.58 L218.41,460.86 L218.91,461.12 L219.41,461.38 L219.91,461.63 L220.41,461.87 L220.91,462.10 L221.41,462.32 L221.91,462.54 L222.41,462.74 L222.91,462.94 L223.41,463.14 L223.91,463.32 L224.41,463.50 L224.91,463.67 L225.41,463.84 L225.91,464.00 L226.41,464.15 L226.91,464.30 L227.41,464.44 L227.91,464.58 L228.41,464.71 L228.91,464.84 L229.41,464.96 L229.91,465.07 L230.41,465.18 L230.91,465.29 L231.41,465.39 L231.91,465.49 L232.41,465.58 L232.91,465.67 L233.41,465.76 L233.91,465.84 L234.41,465.92 L234.91,466.00 L235.41,466.07 L235.91,466.14 L236.41,466.20 L236.91,466.27 L237.41,466.33 L237.91,466.38 L238.41,466.44 L238.91,466.49 L239.41,466.54 L239.91,466.59 L240.41,466.63 L240.91,466.67 L241.41,466.72 L241.91,466.75 L242.40,466.79 L242.90,466.83 L243.40,466.86 L243.90,466.89 L244.40,466.92 L244.90,466.95 L245.40,466.98 L245.90,467.00 L246.40,467.03 L246.90,467.05 L247.40,467.07 L247.90,467.09 L248.40,467.11 L248.90,467.13 L249.40,467.15 L249.90,467.17 L250.40,467.18 L250.90,467.20 L251.40,467.21 L251.90,467.23 L252.40,467.24 L252.90,467.25 L253.40,467.26 L253.90,467.27 L254.40,467.28 L254.90,467.29 L255.40,467.30 L255.90,467.31 L256.40,467.32 L256.90,467.33 L257.40,467.33 L257.90,467.34 L258.40,467.35 L258.90,467.35 L259.40,467.36 L259.90,467.36 L260.40,467.37 L260.90,467.37 L261.40,467.38 L261.90,467.38 L262.40,467.38 L262.90,467.39 L263.40,467.39 L263.90,467.39 L264.40,467.40 L264.90,467.40 L265.40,467.40" fill="none" stroke="#4472c4" stroke-width="1.45" stroke-linejoin="round"/>
<text x="27.85" y="471.04" text-anchor="end" font-family='"Liberation Sans", sans-serif' font-size="7.9" fill="#404040" stroke="#404040" stroke-width="0.3">0</text>
<text x="27.85" y="433.41" text-anchor="end" font-family='"Liberation Sans", sans-serif' font-size="7.9" fill="#404040" stroke="#404040" stroke-width="0.3">3</text>
<text x="27.85" y="395.78" text-anchor="end" font-family='"Liberation Sans", sans-serif' font-size="7.9" fill="#404040" stroke="#404040" stroke-width="0.3">6</text>
<text x="27.85" y="358.15" text-anchor="end" font-family='"Liberation Sans", sans-serif' font-size="7.9" fill="#404040" stroke="#404040" stroke-width="0.3">9</text>
<text x="35.75" y="478.90" text-anchor="middle" font-family='"Liberation Serif", serif' font-size="7.4" textLength="16.91" lengthAdjust="spacingAndGlyphs" fill="#404040" stroke="#404040" stroke-width="0.2">-9.9%</text>
<text x="64.49" y="478.90" text-anchor="middle" font-family='"Liberation Serif", serif' font-size="7.4" textLength="16.91" lengthAdjust="spacingAndGlyphs" fill="#404040" stroke="#404040" stroke-width="0.2">-5.2%</text>
<text x="93.24" y="478.90" text-anchor="middle" font-family='"Liberation Serif", serif' font-size="7.4" textLength="16.91" lengthAdjust="spacingAndGlyphs" fill="#404040" stroke="#404040" stroke-width="0.2">-0.5%</text>
<text x="121.98" y="478.90" text-anchor="middle" font-family='"Liberation Serif", serif' font-size="7.4" textLength="14.58" lengthAdjust="spacingAndGlyphs" fill="#404040" stroke="#404040" stroke-width="0.2">4.2%</text>
<text x="150.73" y="478.90" text-anchor="middle" font-family='"Liberation Serif", serif' font-size="7.4" textLength="14.58" lengthAdjust="spacingAndGlyphs" fill="#404040" stroke="#404040" stroke-width="0.2">8.9%</text>
<text x="179.47" y="478.90" text-anchor="middle" font-family='"Liberation Serif", serif' font-size="7.4" textLength="18.08" lengthAdjust="spacingAndGlyphs" fill="#404040" stroke="#404040" stroke-width="0.2">13.6%</text>
<text x="208.21" y="478.90" text-anchor="middle" font-family='"Liberation Serif", serif' font-size="7.4" textLength="18.08" lengthAdjust="spacingAndGlyphs" fill="#404040" stroke="#404040" stroke-width="0.2">18.3%</text>
<text x="236.96" y="478.90" text-anchor="middle" font-family='"Liberation Serif", serif' font-size="7.4" textLength="18.08" lengthAdjust="spacingAndGlyphs" fill="#404040" stroke="#404040" stroke-width="0.2">23.0%</text>
<text x="265.70" y="478.90" text-anchor="middle" font-family='"Liberation Serif", serif' font-size="7.4" textLength="18.08" lengthAdjust="spacingAndGlyphs" fill="#404040" stroke="#404040" stroke-width="0.2">27.7%</text>
<text transform="translate(19.85,411.00) rotate(-90)" text-anchor="middle" font-family='"Liberation Sans", sans-serif' font-size="7.0" fill="#404040" stroke="#404040" stroke-width="0.2" textLength="26" lengthAdjust="spacingAndGlyphs">Density</text>
<text x="75.6" y="488.4" font-family='"Liberation Serif", serif' font-size="9.4" fill="#262626" stroke="#262626" stroke-width="0.18" textLength="151.2" lengthAdjust="spacingAndGlyphs">Maximum temperature rise among phases.</text>
<text x="206.30" y="376.10" font-family='"Liberation Serif", serif' font-style="italic" font-size="12" fill="#262626" stroke="#262626" stroke-width="0.3">μ</text>
<text x="215.70" y="376.10" font-family='"Liberation Sans", sans-serif' font-size="11" fill="#262626" stroke="#262626" stroke-width="0.3" textLength="7.4" lengthAdjust="spacingAndGlyphs">=</text>
<text x="227.30" y="376.10" font-family='"Liberation Sans", sans-serif' font-size="10.6" fill="#262626" stroke="#262626" stroke-width="0.25" textLength="25.00" lengthAdjust="spacingAndGlyphs">8.9%</text>
<text x="206.30" y="389.30" font-family='"Liberation Serif", serif' font-style="italic" font-size="12" fill="#262626" stroke="#262626" stroke-width="0.3">ρ</text>
<text x="215.70" y="389.30" font-family='"Liberation Sans", sans-serif' font-size="11" fill="#262626" stroke="#262626" stroke-width="0.3" textLength="7.4" lengthAdjust="spacingAndGlyphs">=</text>
<text x="227.30" y="389.30" font-family='"Liberation Sans", sans-serif' font-size="10.6" fill="#262626" stroke="#262626" stroke-width="0.25" textLength="25.00" lengthAdjust="spacingAndGlyphs">4.7%</text>
<text x="162.2" y="431" font-family='"Liberation Sans", sans-serif' font-size="7.4" font-weight="bold" fill="#242c3d" stroke="#242c3d" stroke-width="0.2" textLength="20.5" lengthAdjust="spacingAndGlyphs">40.6%</text>
<text x="143" y="466.4" font-family='"Liberation Serif", serif' font-size="7.0" fill="#333" stroke="#333" stroke-width="0.25" textLength="12.4" lengthAdjust="spacingAndGlyphs">10%</text>
<text x="5.30" y="514.4" font-family='"Liberation Serif", serif' font-size="13.0" fill="#000" textLength="14.90" lengthAdjust="spacingAndGlyphs">(<tspan font-weight="bold">e</tspan>)</text>
<text x="22.80" y="514.4" font-family='"Liberation Serif", serif' font-size="13.0" fill="#000" textLength="219.50" lengthAdjust="spacingAndGlyphs">Case study 5: Less than 25% mismatch;</text></g>
<g id="pf"><line x1="308.00" y1="439.68" x2="537.40" y2="439.68" stroke="#e6e6e6" stroke-width="0.8"/>
<line x1="308.00" y1="411.35" x2="537.40" y2="411.35" stroke="#e6e6e6" stroke-width="0.8"/>
<line x1="308.00" y1="383.02" x2="537.40" y2="383.02" stroke="#e6e6e6" stroke-width="0.8"/>
<line x1="336.68" y1="354.70" x2="336.68" y2="468.00" stroke="#e6e6e6" stroke-width="0.8"/>
<line x1="365.35" y1="354.70" x2="365.35" y2="468.00" stroke="#e6e6e6" stroke-width="0.8"/>
<line x1="394.02" y1="354.70" x2="394.02" y2="468.00" stroke="#e6e6e6" stroke-width="0.8"/>
<line x1="422.70" y1="354.70" x2="422.70" y2="468.00" stroke="#e6e6e6" stroke-width="0.8"/>
<line x1="451.38" y1="354.70" x2="451.38" y2="468.00" stroke="#e6e6e6" stroke-width="0.8"/>
<line x1="480.05" y1="354.70" x2="480.05" y2="468.00" stroke="#e6e6e6" stroke-width="0.8"/>
<line x1="508.72" y1="354.70" x2="508.72" y2="468.00" stroke="#e6e6e6" stroke-width="0.8"/>
<rect x="470.9" y="361" width="62.60" height="32.00" fill="#fff"/>
<path d="M421.90,468.00 L421.90,366.76 L422.20,366.73 L422.70,366.70 L423.20,366.71 L423.70,366.74 L424.20,366.80 L424.69,366.89 L425.19,367.02 L425.69,367.17 L426.19,367.35 L426.69,367.56 L427.19,367.80 L427.69,368.07 L428.19,368.37 L428.68,368.70 L429.18,369.05 L429.68,369.43 L430.18,369.84 L430.68,370.28 L431.18,370.74 L431.68,371.23 L432.18,371.75 L432.67,372.29 L433.17,372.86 L433.67,373.45 L434.17,374.07 L434.67,374.71 L435.17,375.37 L435.67,376.05 L436.16,376.76 L436.66,377.49 L437.16,378.24 L437.66,379.01 L438.16,379.80 L438.66,380.60 L439.16,381.43 L439.66,382.27 L440.15,383.13 L440.65,384.01 L441.15,384.90 L441.65,385.81 L442.15,386.73 L442.65,387.66 L443.15,388.61 L443.65,389.57 L444.14,390.54 L444.64,391.52 L445.14,392.51 L445.64,393.51 L446.14,394.52 L446.64,395.54 L447.14,396.56 L447.63,397.59 L448.13,398.62 L448.63,399.67 L449.13,400.71 L449.63,401.76 L450.13,402.81 L450.63,403.86 L451.13,404.92 L451.62,405.97 L452.12,407.03 L452.62,408.09 L453.12,409.14 L453.62,410.20 L454.12,411.25 L454.62,412.30 L455.12,413.34 L455.61,414.39 L456.11,415.42 L456.61,416.46 L457.11,417.48 L457.61,418.51 L458.11,419.52 L458.61,420.53 L459.10,421.53 L459.60,422.52 L460.10,423.51 L460.60,424.49 L461.10,425.46 L461.60,426.41 L462.10,427.36 L462.60,428.30 L463.09,429.23 L463.59,430.15 L464.09,431.06 L464.59,431.96 L465.09,432.84 L465.59,433.72 L466.09,434.58 L466.59,435.43 L467.08,436.26 L467.58,437.09 L468.08,437.90 L468.58,438.70 L469.08,439.49 L469.58,440.26 L470.08,441.03 L470.57,441.77 L471.07,442.51 L471.57,443.23 L472.07,443.94 L472.57,444.63 L473.07,445.31 L473.57,445.98 L474.07,446.64 L474.56,447.28 L475.06,447.91 L475.56,448.52 L476.06,449.12 L476.56,449.71 L477.06,450.29 L477.56,450.85 L478.06,451.40 L478.55,451.94 L479.05,452.46 L479.55,452.97 L480.05,453.47 L480.55,453.96 L481.05,454.43 L481.55,454.89 L482.04,455.34 L482.54,455.78 L483.04,456.21 L483.54,456.62 L484.04,457.02 L484.54,457.42 L485.04,457.80 L485.54,458.17 L486.03,458.53 L486.53,458.88 L487.03,459.22 L487.53,459.55 L488.03,459.86 L488.53,460.17 L489.03,460.47 L489.53,460.76 L490.02,461.05 L490.52,461.32 L491.02,461.58 L491.52,461.84 L492.02,462.08 L492.52,462.32 L493.02,462.55 L493.51,462.77 L494.01,462.99 L494.51,463.20 L495.01,463.40 L495.51,463.59 L496.01,463.78 L496.51,463.96 L497.01,464.13 L497.50,464.30 L498.00,464.46 L498.50,464.61 L499.00,464.76 L499.50,464.91 L500.00,465.04 L500.50,465.18 L501.00,465.30 L501.49,465.43 L501.99,465.54 L502.49,465.66 L502.99,465.76 L503.49,465.87 L503.99,465.97 L504.49,466.06 L504.98,466.16 L505.48,466.24 L505.98,466.33 L506.48,466.41 L506.98,466.49 L507.48,466.56 L507.98,466.63 L508.48,466.70 L508.97,466.76 L509.47,466.82 L509.97,466.88 L510.47,466.94 L510.97,466.99 L511.47,467.04 L511.97,467.09 L512.47,467.14 L512.96,467.18 L513.46,467.23 L513.96,467.27 L514.46,467.31 L514.96,467.34 L515.46,467.38 L515.96,467.41 L516.45,467.44 L516.95,467.47 L517.45,467.50 L517.95,467.53 L518.45,467.56 L518.95,467.58 L519.45,467.60 L519.95,467.63 L520.44,467.65 L520.94,467.67 L521.44,467.68 L521.94,467.70 L522.44,467.72 L522.94,467.74 L523.44,467.75 L523.94,467.77 L524.43,467.78 L524.93,467.79 L525.43,467.80 L525.93,467.82 L526.43,467.83 L526.93,467.84 L527.43,467.85 L527.92,467.86 L528.42,467.86 L528.92,467.87 L529.42,467.88 L529.92,467.89 L530.42,467.90 L530.92,467.90 L531.42,467.91 L531.91,467.91 L532.41,467.92 L532.91,467.92 L533.41,467.93 L533.91,467.93 L534.41,467.94 L534.91,467.94 L535.41,467.95 L535.90,467.95 L536.40,467.95 L536.90,467.96 L537.40,467.96 L537.40,468.00 Z" fill="#4472c4" fill-opacity="0.71"/>
<path d="M308.0,468.0 L308.0,354.7 L537.4,354.7 L537.4,468.0 Z" fill="none" stroke="#8f8f8f" stroke-width="1.25"/>
<path d="M308.00,467.96 L308.50,467.96 L309.00,467.95 L309.50,467.95 L309.99,467.95 L310.49,467.94 L310.99,467.94 L311.49,467.94 L311.99,467.93 L312.49,467.93 L312.99,467.92 L313.49,467.92 L313.98,467.91 L314.48,467.91 L314.98,467.90 L315.48,467.89 L315.98,467.89 L316.48,467.88 L316.98,467.87 L317.48,467.86 L317.97,467.85 L318.47,467.85 L318.97,467.84 L319.47,467.82 L319.97,467.81 L320.47,467.80 L320.97,467.79 L321.46,467.78 L321.96,467.76 L322.46,467.75 L322.96,467.73 L323.46,467.72 L323.96,467.70 L324.46,467.68 L324.96,467.66 L325.45,467.64 L325.95,467.62 L326.45,467.60 L326.95,467.57 L327.45,467.55 L327.95,467.52 L328.45,467.50 L328.95,467.47 L329.44,467.44 L329.94,467.41 L330.44,467.37 L330.94,467.34 L331.44,467.30 L331.94,467.26 L332.44,467.22 L332.93,467.18 L333.43,467.13 L333.93,467.08 L334.43,467.03 L334.93,466.98 L335.43,466.93 L335.93,466.87 L336.43,466.81 L336.92,466.75 L337.42,466.68 L337.92,466.62 L338.42,466.54 L338.92,466.47 L339.42,466.39 L339.92,466.31 L340.42,466.23 L340.91,466.14 L341.41,466.05 L341.91,465.95 L342.41,465.85 L342.91,465.74 L343.41,465.63 L343.91,465.52 L344.40,465.40 L344.90,465.28 L345.40,465.15 L345.90,465.02 L346.40,464.88 L346.90,464.73 L347.40,464.58 L347.90,464.43 L348.39,464.26 L348.89,464.10 L349.39,463.92 L349.89,463.74 L350.39,463.55 L350.89,463.36 L351.39,463.16 L351.89,462.95 L352.38,462.73 L352.88,462.51 L353.38,462.28 L353.88,462.04 L354.38,461.79 L354.88,461.53 L355.38,461.26 L355.87,460.99 L356.37,460.71 L356.87,460.42 L357.37,460.11 L357.87,459.80 L358.37,459.48 L358.87,459.15 L359.37,458.81 L359.86,458.46 L360.36,458.10 L360.86,457.72 L361.36,457.34 L361.86,456.95 L362.36,456.54 L362.86,456.12 L363.36,455.69 L363.85,455.25 L364.35,454.80 L364.85,454.34 L365.35,453.86 L365.85,453.37 L366.35,452.87 L366.85,452.36 L367.34,451.83 L367.84,451.29 L368.34,450.74 L368.84,450.17 L369.34,449.60 L369.84,449.01 L370.34,448.40 L370.84,447.78 L371.33,447.15 L371.83,446.51 L372.33,445.85 L372.83,445.18 L373.33,444.50 L373.83,443.80 L374.33,443.09 L374.83,442.36 L375.32,441.63 L375.82,440.88 L376.32,440.11 L376.82,439.33 L377.32,438.55 L377.82,437.74 L378.32,436.93 L378.81,436.10 L379.31,435.26 L379.81,434.41 L380.31,433.54 L380.81,432.67 L381.31,431.78 L381.81,430.88 L382.31,429.97 L382.80,429.05 L383.30,428.12 L383.80,427.18 L384.30,426.23 L384.80,425.26 L385.30,424.29 L385.80,423.32 L386.30,422.33 L386.79,421.33 L387.29,420.33 L387.79,419.32 L388.29,418.30 L388.79,417.28 L389.29,416.25 L389.79,415.22 L390.28,414.18 L390.78,413.14 L391.28,412.09 L391.78,411.04 L392.28,409.99 L392.78,408.93 L393.28,407.88 L393.78,406.82 L394.27,405.77 L394.77,404.71 L395.27,403.65 L395.77,402.60 L396.27,401.55 L396.77,400.50 L397.27,399.46 L397.77,398.42 L398.26,397.38 L398.76,396.36 L399.26,395.33 L399.76,394.32 L400.26,393.31 L400.76,392.31 L401.26,391.33 L401.75,390.35 L402.25,389.38 L402.75,388.42 L403.25,387.48 L403.75,386.55 L404.25,385.63 L404.75,384.72 L405.25,383.83 L405.74,382.96 L406.24,382.10 L406.74,381.26 L407.24,380.44 L407.74,379.64 L408.24,378.85 L408.74,378.09 L409.24,377.34 L409.73,376.62 L410.23,375.92 L410.73,375.24 L411.23,374.58 L411.73,373.94 L412.23,373.33 L412.73,372.75 L413.22,372.18 L413.72,371.65 L414.22,371.14 L414.72,370.65 L415.22,370.19 L415.72,369.76 L416.22,369.35 L416.72,368.98 L417.21,368.63 L417.71,368.31 L418.21,368.02 L418.71,367.75 L419.21,367.52 L419.71,367.31 L420.21,367.14 L420.71,366.99 L421.20,366.87 L421.70,366.79 L422.20,366.73 L422.70,366.70 L423.20,366.71 L423.70,366.74 L424.20,366.80 L424.69,366.89 L425.19,367.02 L425.69,367.17 L426.19,367.35 L426.69,367.56 L427.19,367.80 L427.69,368.07 L428.19,368.37 L428.68,368.70 L429.18,369.05 L429.68,369.43 L430.18,369.84 L430.68,370.28 L431.18,370.74 L431.68,371.23 L432.18,371.75 L432.67,372.29 L433.17,372.86 L433.67,373.45 L434.17,374.07 L434.67,374.71 L435.17,375.37 L435.67,376.05 L436.16,376.76 L436.66,377.49 L437.16,378.24 L437.66,379.01 L438.16,379.80 L438.66,380.60 L439.16,381.43 L439.66,382.27 L440.15,383.13 L440.65,384.01 L441.15,384.90 L441.65,385.81 L442.15,386.73 L442.65,387.66 L443.15,388.61 L443.65,389.57 L444.14,390.54 L444.64,391.52 L445.14,392.51 L445.64,393.51 L446.14,394.52 L446.64,395.54 L447.14,396.56 L447.63,397.59 L448.13,398.62 L448.63,399.67 L449.13,400.71 L449.63,401.76 L450.13,402.81 L450.63,403.86 L451.13,404.92 L451.62,405.97 L452.12,407.03 L452.62,408.09 L453.12,409.14 L453.62,410.20 L454.12,411.25 L454.62,412.30 L455.12,413.34 L455.61,414.39 L456.11,415.42 L456.61,416.46 L457.11,417.48 L457.61,418.51 L458.11,419.52 L458.61,420.53 L459.10,421.53 L459.60,422.52 L460.10,423.51 L460.60,424.49 L461.10,425.46 L461.60,426.41 L462.10,427.36 L462.60,428.30 L463.09,429.23 L463.59,430.15 L464.09,431.06 L464.59,431.96 L465.09,432.84 L465.59,433.72 L466.09,434.58 L466.59,435.43 L467.08,436.26 L467.58,437.09 L468.08,437.90 L468.58,438.70 L469.08,439.49 L469.58,440.26 L470.08,441.03 L470.57,441.77 L471.07,442.51 L471.57,443.23 L472.07,443.94 L472.57,444.63 L473.07,445.31 L473.57,445.98 L474.07,446.64 L474.56,447.28 L475.06,447.91 L475.56,448.52 L476.06,449.12 L476.56,449.71 L477.06,450.29 L477.56,450.85 L478.06,451.40 L478.55,451.94 L479.05,452.46 L479.55,452.97 L480.05,453.47 L480.55,453.96 L481.05,454.43 L481.55,454.89 L482.04,455.34 L482.54,455.78 L483.04,456.21 L483.54,456.62 L484.04,457.02 L484.54,457.42 L485.04,457.80 L485.54,458.17 L486.03,458.53 L486.53,458.88 L487.03,459.22 L487.53,459.55 L488.03,459.86 L488.53,460.17 L489.03,460.47 L489.53,460.76 L490.02,461.05 L490.52,461.32 L491.02,461.58 L491.52,461.84 L492.02,462.08 L492.52,462.32 L493.02,462.55 L493.51,462.77 L494.01,462.99 L494.51,463.20 L495.01,463.40 L495.51,463.59 L496.01,463.78 L496.51,463.96 L497.01,464.13 L497.50,464.30 L498.00,464.46 L498.50,464.61 L499.00,464.76 L499.50,464.91 L500.00,465.04 L500.50,465.18 L501.00,465.30 L501.49,465.43 L501.99,465.54 L502.49,465.66 L502.99,465.76 L503.49,465.87 L503.99,465.97 L504.49,466.06 L504.98,466.16 L505.48,466.24 L505.98,466.33 L506.48,466.41 L506.98,466.49 L507.48,466.56 L507.98,466.63 L508.48,466.70 L508.97,466.76 L509.47,466.82 L509.97,466.88 L510.47,466.94 L510.97,466.99 L511.47,467.04 L511.97,467.09 L512.47,467.14 L512.96,467.18 L513.46,467.23 L513.96,467.27 L514.46,467.31 L514.96,467.34 L515.46,467.38 L515.96,467.41 L516.45,467.44 L516.95,467.47 L517.45,467.50 L517.95,467.53 L518.45,467.56 L518.95,467.58 L519.45,467.60 L519.95,467.63 L520.44,467.65 L520.94,467.67 L521.44,467.68 L521.94,467.70 L522.44,467.72 L522.94,467.74 L523.44,467.75 L523.94,467.77 L524.43,467.78 L524.93,467.79 L525.43,467.80 L525.93,467.82 L526.43,467.83 L526.93,467.84 L527.43,467.85 L527.92,467.86 L528.42,467.86 L528.92,467.87 L529.42,467.88 L529.92,467.89 L530.42,467.90 L530.92,467.90 L531.42,467.91 L531.91,467.91 L532.41,467.92 L532.91,467.92 L533.41,467.93 L533.91,467.93 L534.41,467.94 L534.91,467.94 L535.41,467.95 L535.90,467.95 L536.40,467.95 L536.90,467.96 L537.40,467.96" fill="none" stroke="#4472c4" stroke-width="1.45" stroke-linejoin="round"/>
<text x="300.40" y="471.60" text-anchor="end" font-family='"Liberation Serif", serif' font-size="8.4" fill="#404040" stroke="#404040" stroke-width="0.3">0</text>
<text x="300.40" y="443.28" text-anchor="end" font-family='"Liberation Serif", serif' font-size="8.4" fill="#404040" stroke="#404040" stroke-width="0.3">2</text>
<text x="300.40" y="414.95" text-anchor="end" font-family='"Liberation Serif", serif' font-size="8.4" fill="#404040" stroke="#404040" stroke-width="0.3">4</text>
<text x="300.40" y="386.62" text-anchor="end" font-family='"Liberation Serif", serif' font-size="8.4" fill="#404040" stroke="#404040" stroke-width="0.3">6</text>
<text x="300.40" y="358.30" text-anchor="end" font-family='"Liberation Serif", serif' font-size="8.4" fill="#404040" stroke="#404040" stroke-width="0.3">8</text>
<text x="308.30" y="479.90" text-anchor="middle" font-family='"Liberation Serif", serif' font-size="7.4" textLength="20.41" lengthAdjust="spacingAndGlyphs" fill="#404040" stroke="#404040" stroke-width="0.2">-11.9%</text>
<text x="336.98" y="479.90" text-anchor="middle" font-family='"Liberation Serif", serif' font-size="7.4" textLength="16.91" lengthAdjust="spacingAndGlyphs" fill="#404040" stroke="#404040" stroke-width="0.2">-6.3%</text>
<text x="365.65" y="479.90" text-anchor="middle" font-family='"Liberation Serif", serif' font-size="7.4" textLength="16.91" lengthAdjust="spacingAndGlyphs" fill="#404040" stroke="#404040" stroke-width="0.2">-0.7%</text>
<text x="394.32" y="479.90" text-anchor="middle" font-family='"Liberation Serif", serif' font-size="7.4" textLength="14.58" lengthAdjust="spacingAndGlyphs" fill="#404040" stroke="#404040" stroke-width="0.2">4.9%</text>
<text x="423.00" y="479.90" text-anchor="middle" font-family='"Liberation Serif", serif' font-size="7.4" textLength="18.08" lengthAdjust="spacingAndGlyphs" fill="#404040" stroke="#404040" stroke-width="0.2">10.5%</text>
<text x="451.68" y="479.90" text-anchor="middle" font-family='"Liberation Serif", serif' font-size="7.4" textLength="18.08" lengthAdjust="spacingAndGlyphs" fill="#404040" stroke="#404040" stroke-width="0.2">16.1%</text>
<text x="480.35" y="479.90" text-anchor="middle" font-family='"Liberation Serif", serif' font-size="7.4" textLength="18.08" lengthAdjust="spacingAndGlyphs" fill="#404040" stroke="#404040" stroke-width="0.2">21.7%</text>
<text x="509.02" y="479.90" text-anchor="middle" font-family='"Liberation Serif", serif' font-size="7.4" textLength="18.08" lengthAdjust="spacingAndGlyphs" fill="#404040" stroke="#404040" stroke-width="0.2">27.3%</text>
<text x="537.70" y="479.90" text-anchor="middle" font-family='"Liberation Serif", serif' font-size="7.4" textLength="18.08" lengthAdjust="spacingAndGlyphs" fill="#404040" stroke="#404040" stroke-width="0.2">32.9%</text>
<text transform="translate(292.00,411.35) rotate(-90)" text-anchor="middle" font-family='"Liberation Serif", serif' font-size="7.4" fill="#404040" stroke="#404040" stroke-width="0.2" textLength="26" lengthAdjust="spacingAndGlyphs">Density</text>
<text x="348" y="489" font-family='"Liberation Serif", serif' font-size="9.4" fill="#262626" stroke="#262626" stroke-width="0.18" textLength="151.4" lengthAdjust="spacingAndGlyphs">Maximum temperature rise among phases.</text>
<text x="476.30" y="376.10" font-family='"Liberation Serif", serif' font-style="italic" font-size="12" fill="#262626" stroke="#262626" stroke-width="0.3">μ</text>
<text x="485.70" y="376.10" font-family='"Liberation Sans", sans-serif' font-size="11" fill="#262626" stroke="#262626" stroke-width="0.3" textLength="7.4" lengthAdjust="spacingAndGlyphs">=</text>
<text x="497.30" y="376.10" font-family='"Liberation Sans", sans-serif' font-size="10.6" fill="#262626" stroke="#262626" stroke-width="0.25" textLength="31.10" lengthAdjust="spacingAndGlyphs">10.5%</text>
<text x="476.30" y="389.30" font-family='"Liberation Serif", serif' font-style="italic" font-size="12" fill="#262626" stroke="#262626" stroke-width="0.3">ρ</text>
<text x="485.70" y="389.30" font-family='"Liberation Sans", sans-serif' font-size="11" fill="#262626" stroke="#262626" stroke-width="0.3" textLength="7.4" lengthAdjust="spacingAndGlyphs">=</text>
<text x="497.30" y="389.30" font-family='"Liberation Sans", sans-serif' font-size="10.6" fill="#262626" stroke="#262626" stroke-width="0.25" textLength="24.70" lengthAdjust="spacingAndGlyphs">5.6%</text>
<text x="428.8" y="428.6" font-family='"Liberation Sans", sans-serif' font-size="8.2" font-weight="bold" fill="#242c3d" stroke="#242c3d" stroke-width="0.2" textLength="21.2" lengthAdjust="spacingAndGlyphs">53.7%</text>
<text x="407.8" y="466.6" font-family='"Liberation Serif", serif' font-size="7.0" fill="#333" stroke="#333" stroke-width="0.25" textLength="12.6" lengthAdjust="spacingAndGlyphs">10%</text>
<text x="277.70" y="514.4" font-family='"Liberation Serif", serif' font-size="13.0" fill="#000" textLength="12.90" lengthAdjust="spacingAndGlyphs">(<tspan font-weight="bold">f</tspan>)</text>
<text x="293.90" y="514.4" font-family='"Liberation Serif", serif' font-size="13.0" fill="#000" textLength="218.80" lengthAdjust="spacingAndGlyphs">Case study 6: Less than 30% mismatch.</text></g>
</svg>
</body></html>
